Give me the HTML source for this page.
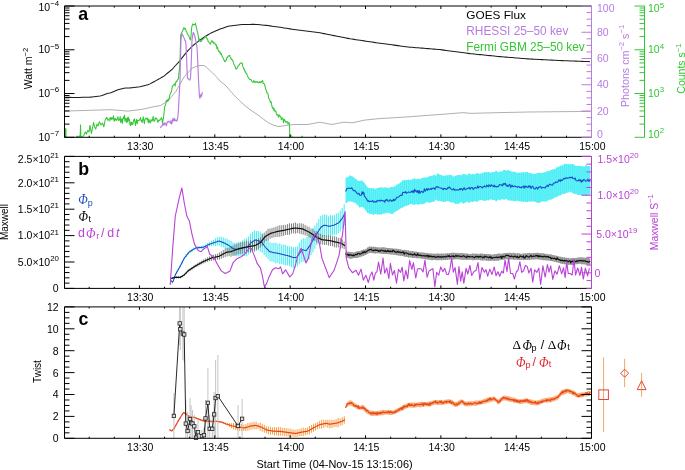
<!DOCTYPE html>
<html><head><meta charset="utf-8"><title>Flux and twist plot</title>
<style>html,body{margin:0;padding:0;background:#fff;}svg{display:block;font-family:"Liberation Sans", Arial, Helvetica, sans-serif;}</style>
</head><body>
<svg width="685" height="470" viewBox="0 0 685 470">
<rect width="685" height="470" fill="#fff"/>
<polyline points="64,111.1 66,111.04 68,110.98 70,110.92 72,110.86 74,110.8 76,110.74 78,110.68 80,110.62 82,110.56 84,110.5 86,110.44 88,110.38 90,110.32 92,110.26 94,110.2 96,110.14 98,110.08 100,110.02 102,109.96 104,109.91 106,109.85 108,109.79 110,109.73 112,109.78 114,109.95 116,110.11 118,110.28 120,110.44 122,110.61 124,110.77 126,110.94 128,111.1 130,110.85 132,110.6 134,110.36 136,110.11 138,109.86 140,109.61 142,109.33 144,108.88 146,108.43 148,107.97 150,107.52 152,107.07 154,106.62 156,106.22 158,105.96 160,105.7 162,104.52 164,103.34 166,102.12 168,100.9 170,98.5 172,96.1 174,93.7 176,91.3 178,87.72 180,84.15 182,80.58 184,77 186,74.8 188,72.6 190,70.4 192,68.2 194,67.34 196,66.49 198,65.63 200,65.5 202,65.5 204,65.5 206,66.72 208,68.59 210,70.46 212,72.4 214,74.4 216,76.43 218,78.74 220,81.05 222,82.68 224,84.19 226,85.87 228,88.19 230,90.52 232,92.84 234,95.1 236,97.1 238,99.1 240,101.1 242,103.04 244,104.71 246,106.39 248,108.06 250,109.67 252,111.01 254,112.35 256,113.69 258,115.08 260,116.59 262,118.1 264,119.57 266,121.01 268,122.46 270,123.52 272,124.54 274,125.42 276,125.91 278,126.4 280,126.41 282,126.08 284,125.75 286,125.43 288,125.18 290,124.98 292,124.77 294,124.57 296,124.5 298,124.5 300,124.5 302,124.5 304,124.5 306,124.5 308,124.48 310,124.09 312,123.71 314,123.32 316,122.93 318,122.55 320,122.24 322,122.63 324,123.01 326,123.4 328,123.78 330,124.17 332,124.44 334,124.06 336,123.67 338,123.28 340,122.9 342,122.51 344,122.23 346,122.36 348,122.49 350,122.63 352,122.76 354,122.48 356,122.03 358,121.57 360,121.12 362,120.67 364,120.21 366,119.95 368,119.75 370,119.55 372,119.34 374,119.14 376,118.94 378,118.74 380,118.56 382,118.44 384,118.32 386,118.2 388,118.08 390,117.96 392,117.84 394,117.72 396,117.6 398,117.48 400,117.36 402,117.23 404,117.11 406,116.99 408,116.87 410,116.74 412,116.57 414,116.41 416,116.25 418,116.09 420,115.93 422,115.77 424,115.61 426,115.47 428,115.33 430,115.19 432,115.05 434,114.92 436,114.78 438,114.64 440,114.5 442,114.34 444,114.18 446,114.02 448,113.86 450,113.7 452,113.54 454,113.38 456,113.22 458,113.06 460,112.9 462,112.74 464,112.63 466,112.89 468,113.16 470,113.39 472,113.34 474,113.29 476,113.23 478,113.18 480,113.13 482,113.07 484,113.02 486,112.97 488,112.91 490,112.86 492,112.8 494,112.75 496,112.7 498,112.64 500,112.59 502,112.55 504,112.51 506,112.47 508,112.43 510,112.39 512,112.35 514,112.31 516,112.27 518,112.23 520,112.19 522,112.15 524,112.11 526,112.07 528,112.03 530,111.99 532,111.97 534,111.95 536,111.93 538,111.91 540,111.89 542,111.87 544,111.85 546,111.83 548,111.81 550,111.79 552,111.77 554,111.75 556,111.73 558,111.71 560,111.69 562,111.67 564,111.65 566,111.64 568,111.62 570,111.6 572,111.58 574,111.56 576,111.54 578,111.52 580,111.5 582,111.48 584,111.47 586,111.45 588,111.43 590,111.41" fill="none" stroke="#b0b0b0" stroke-width="1.0" stroke-linejoin="round" />
<polyline points="64,97.3 66,97.33 68,97.36 70,97.39 72,97.42 74,97.45 76,97.48 78,97.47 80,97.41 82,97.35 84,97.29 86,97.24 88,97.18 90,97.12 92,96.92 94,96.67 96,96.42 98,96.17 100,95.91 102,95.41 104,94.71 106,94 108,93.34 110,92.91 112,92.28 114,91.44 116,90.6 118,89.77 120,89.27 122,88.77 124,88.27 126,88.04 128,87.95 130,87.87 132,87.74 134,87.48 136,87.22 138,86.96 140,86.7 142,86.23 144,85.76 146,85.29 148,84.82 150,83.89 152,82.81 154,81.72 156,80.64 158,79.53 160,78.4 162,77.27 164,76.12 166,74.44 168,72.77 170,71.1 172,69.48 174,67.26 176,65 178,62.87 180,60.53 182,57.94 184,55.35 186,52.85 188,50.67 190,48.48 192,46.32 194,44.73 196,43.13 198,41.54 200,40.1 202,38.7 204,37.29 206,36.02 208,34.81 210,33.6 212,32.57 214,31.7 216,30.83 218,29.97 220,29.1 222,28.4 224,27.7 226,27 228,26.3 230,26 232,25.75 234,25.51 236,25.27 238,25.03 240,24.79 242,24.59 244,24.55 246,24.5 248,24.46 250,24.41 252,24.37 254,24.32 256,24.41 258,24.6 260,24.8 262,24.99 264,25.19 266,25.38 268,25.58 270,25.86 272,26.15 274,26.43 276,26.72 278,27.01 280,27.3 282,27.59 284,27.91 286,28.23 288,28.54 290,28.86 292,29.17 294,29.49 296,29.77 298,30.02 300,30.28 302,30.53 304,30.79 306,31.04 308,31.3 310,31.55 312,31.81 314,32.06 316,32.32 318,32.57 320,32.84 322,33.24 324,33.63 326,34.03 328,34.42 330,34.82 332,35.22 334,35.61 336,36.01 338,36.4 340,36.8 342,37.2 344,37.59 346,37.99 348,38.38 350,38.76 352,39.06 354,39.36 356,39.67 358,39.97 360,40.27 362,40.57 364,40.87 366,41.18 368,41.48 370,41.78 372,42.08 374,42.38 376,42.69 378,42.99 380,43.28 382,43.54 384,43.8 386,44.06 388,44.33 390,44.59 392,44.85 394,45.11 396,45.37 398,45.63 400,45.9 402,46.16 404,46.42 406,46.68 408,46.94 410,47.16 412,47.33 414,47.49 416,47.65 418,47.81 420,47.98 422,48.14 424,48.3 426,48.46 428,48.63 430,48.79 432,48.95 434,49.11 436,49.28 438,49.44 440,49.6 442,49.87 444,50.14 446,50.41 448,50.67 450,50.94 452,51.21 454,51.48 456,51.75 458,52.02 460,52.28 462,52.55 464,52.82 466,53.09 468,53.36 470,53.62 472,53.82 474,54.02 476,54.22 478,54.43 480,54.63 482,54.83 484,55.03 486,55.23 488,55.43 490,55.63 492,55.83 494,56.04 496,56.24 498,56.44 500,56.63 502,56.79 504,56.95 506,57.12 508,57.28 510,57.44 512,57.6 514,57.76 516,57.92 518,58.08 520,58.24 522,58.4 524,58.57 526,58.73 528,58.89 530,59.03 532,59.13 534,59.23 536,59.33 538,59.43 540,59.53 542,59.63 544,59.73 546,59.84 548,59.94 550,60.04 552,60.14 554,60.24 556,60.34 558,60.44 560,60.53 562,60.61 564,60.68 566,60.76 568,60.83 570,60.91 572,60.98 574,61.06 576,61.13 578,61.21 580,61.28 582,61.36 584,61.44 586,61.51 588,61.59 590,61.66" fill="none" stroke="#1c1c1c" stroke-width="1.05" stroke-linejoin="round" />
<polyline points="109.7,121.51 110.25,117.54 110.8,118.61 111.35,119.45 111.9,117.3 112.45,118.93 113,119.05 113.55,115.84 114.1,121.23 114.65,120.56 115.2,118.31 115.75,119.17 116.3,120.46 116.85,119 117.4,119.04 117.95,116.74 118.5,120.55 119.05,119.74 119.6,120.02 120.15,116.6 120.7,122.64 121.25,119.79 121.8,118.76 122.35,123.36 122.9,119.41 123.45,116.74 124,118.73 124.55,115.15 125.1,121.54 125.65,119.03 126.2,118.69 126.75,122.41 127.3,117.51 127.85,121.94 128.4,117.28 128.95,120.22 129.5,119.46 130.05,124.8 130.6,125.66 131.15,121.95 131.7,124.45 132.25,122.78 132.8,124.48 133.35,121.76 133.9,119.47 134.45,118.81 135,122.48 135.55,125.54 136.1,121.3 136.65,119.31 137.2,123.65 137.75,120.5 138.3,120.27 138.85,120.6 139.4,119.9 139.95,119.6 140.5,117.49 141.05,121.21 141.6,120.11 142.15,122.59 142.7,119.66 143.25,116.77 143.8,120.24 144.35,123.69 144.9,119.77 145.45,118.76 146,118.13 146.55,118.35 147.1,119.72 147.65,117.99 148.2,123.03 148.75,119.59 149.3,120.28 149.85,122.75 150.4,122.82 150.95,119.5 151.5,120.48 152.05,121.19 152.6,119.37 153.15,116.31 153.7,120.87 154.25,121.27 154.8,120.31 155.35,117.72 155.9,119.07 156.45,118.28 157,118.8 157.55,121.79 158.1,122.2 158.65,120.53 159.2,120.26 159.75,120.47 160.3,119.12 160.85,118.97 161.4,117.79 161.95,118.93 162.5,123.29 163.05,120.1 163.6,116.77 164.15,111.78 164.7,106.52 165.25,105.52 165.8,103.89 166.35,100.41 166.9,101.52 167.45,99.73 168,100.99 168.55,98.99 169.1,99.32 169.65,95.49 170.2,94.01 170.75,92.83 171.3,91.76 171.85,89.43 172.4,85.8 172.95,85.78 173.5,85.26 174.05,84.44 174.6,83.85 175.15,85.88 175.7,82.74 176.25,81.22 176.8,81.64 177.35,80.31 177.9,79.27 178.45,78.87 179,72.92 179.55,68.56 180.1,58.3 180.65,35.22 181.2,33.53 181.75,32.64 182.3,31.34 182.85,30.67 183.4,28.58 183.95,27.67 184.5,29.1 185.05,28.42 185.6,28.91 186.15,31.47 186.7,31.63 187.25,33.71 187.8,34.3 188.35,35.19 188.9,36.33 189.45,37.94 190,39.21 190.55,39.92 191.1,34.79 191.65,27.73 192.2,25.71 192.75,23.89 193.3,24.5 193.85,24.74 194.4,24.64 194.95,24.7 195.5,23.3 196.05,26.27 196.6,28.43 197.15,30.98 197.7,32.35 198.25,36.22 198.8,40.17 199.35,38.78 199.9,40.68 200.45,41.65 201,40.74 201.55,41.21 202.1,39.64 202.65,39.4 203.2,38.98 203.75,38.83 204.3,37.54 204.85,37.52 205.4,36.36 205.95,37.1 206.5,38.04 207.05,38.86 207.6,38.84 208.15,41.54 208.7,41.72 209.25,42.76 209.8,43.14 210.35,44.21 210.9,42.93 211.45,40.94 212,40.67 212.55,42.01 213.1,41.77 213.65,43.19 214.2,43.03 214.75,42.75 215.3,44.92 215.85,44.63 216.4,44.81 216.95,48.75 217.5,47.1 218.05,50.01 218.6,51.35 219.15,51.66 219.7,51.18 220.25,53.9 220.8,53.04 221.35,53.97 221.9,55.52 222.45,57.19 223,57.71 223.55,59.46 224.1,59.97 224.65,61.54 225.2,61.73 225.75,60.77 226.3,59.87 226.85,57.71 227.4,57.51 227.95,56.33 228.5,55.87 229.05,55.87 229.6,55.26 230.15,56.79 230.7,57.48 231.25,59.55 231.8,59.16 232.35,60.16 232.9,60.87 233.45,62.89 234,64.63 234.55,64.91 235.1,66.68 235.65,68.49 236.2,69.18 236.75,68.22 237.3,68.14 237.85,66.41 238.4,65.5 238.95,64.99 239.5,64.69 240.05,63.36 240.6,62.95 241.15,63.23 241.7,62.96 242.25,63.15 242.8,66.79 243.35,67.32 243.9,69.24 244.45,69.18 245,72 245.55,71.79 246.1,73.22 246.65,73.42 247.2,75.38 247.75,76.44 248.3,77.47 248.85,78.44 249.4,78.71 249.95,79.89 250.5,79.41 251.05,79.58 251.6,80.8 252.15,81.79 252.7,82.33 253.25,82.09 253.8,80.35 254.35,81.91 254.9,82.73 255.45,81.81 256,81.47 256.55,82.11 257.1,81.6 257.65,82.45 258.2,81.99 258.75,82.98 259.3,82.35 259.85,81.49 260.4,82.42 260.95,82.66 261.5,81.6 262.05,81.7 262.6,80.39 263.15,83.42 263.7,83.62 264.25,83.79 264.8,85.28 265.35,87.61 265.9,89.82 266.45,90.82 267,93.06 267.55,92.96 268.1,94.33 268.65,98.15 269.2,99.03 269.75,99.76 270.3,102.52 270.85,101.37 271.4,103.27 271.95,106.17 272.5,108.21 273.05,107.29 273.6,110.21 274.15,108.79 274.7,110.9 275.25,111.43 275.8,110.96 276.35,113.83 276.9,115.13 277.45,114.49 278,115.12 278.55,117.28 279.1,114.93 279.65,115.2 280.2,116.65 280.75,116.42 281.3,119.59 281.85,118.82 282.4,117.9 282.95,118.55 283.5,122.74 284.05,119.3 284.6,119.64 285.15,121.35 285.7,122.24 286.25,122.31 286.8,121.6 287.35,121.69 287.9,123.99 288.45,123.64 289,122.27 289.55,125.75 289.8,137.5" fill="none" stroke="#34c634" stroke-width="1.05" stroke-linejoin="round" />
<polyline points="64.9,137.5 64.9,128.6 65.7,129.4 65.7,137.5" fill="none" stroke="#34c634" stroke-width="1.6" stroke-linejoin="round" />
<polyline points="76,137.5 77,136 78,137 79.5,136 80.2,136.5 80.5,124.9 80.9,136.5 82.5,137 84,135 85.5,131.9 86.5,134 87.7,130.4 89,132 90,125.3 91.4,133.4 92.5,128 93.6,122.4 94.6,127 95.8,129 97,124 98,126 99.4,121.7 101,125 102.4,123 103.8,126.8 105.2,120 106.7,117.3 108,120.5 109.7,118.3" fill="none" stroke="#34c634" stroke-width="1.05" stroke-linejoin="round" />
<polyline points="290.5,137 291.5,135.5 292.5,137" fill="none" stroke="#34c634" stroke-width="0.8" stroke-linejoin="round" />
<polyline points="301,137 302,135.8 303,137" fill="none" stroke="#34c634" stroke-width="0.8" stroke-linejoin="round" />
<polyline points="160.5,128.15 161,126.57 161.5,126.09 162,126.17 162.5,124.69 163,123.5 163.5,125.08 164,123.02 164.5,124.9 165,122.76 165.5,124.12 166,123.95 166.5,125.89 167,122.38 167.5,121.62 168,122.09 168.5,121.19 169,121.4 169.5,122.14 170,122.35 170.5,123.2 171,120.44 171.5,124.03 172,123.18 172.5,120.65 173,118.28 173.5,120.71 174,120.88 174.5,118.27 175,120.88 175.5,120.58 176,119.94 176.5,121.02 177,120.97 177.5,118.86 178,115.39 178.5,108.98 179,98.64 179.5,89.87 180,81.21 180.5,56.44 181,39.11 181.5,36.16 182,33.8 182.5,34.72 183,35.61 183.5,36.62 184,37.89 184.5,39.02 185,40.57 185.5,40.59 186,45.44 186.5,55.17 187,68.69 187.5,77.88 188,78.72 188.5,78.97 189,79.53 189.5,80.04 190,79.93 190.5,77.04 191,69.24 191.5,55.06 192,39.72 192.5,36.09 193,33.37 193.5,32.26 194,34.29 194.5,34.92 195,36.97 195.5,39.27 196,41.59 196.5,44.05 197,47.32 197.5,55.71 198,67.67 198.5,80.06 199,88.73 199.5,96.97 200,98.32 200.5,95.37 201,94.39 201.5,96.4 202,93.59 202.5,92.1" fill="none" stroke="#b67ce2" stroke-width="1.15" stroke-linejoin="round" />
<line x1="64.5" y1="6" x2="591.5" y2="6" stroke="#000" stroke-width="1" />
<line x1="64.5" y1="137.3" x2="591.5" y2="137.3" stroke="#000" stroke-width="1" />
<line x1="64.5" y1="6" x2="64.5" y2="137.3" stroke="#000" stroke-width="1" />
<line x1="591.5" y1="6" x2="591.5" y2="137.3" stroke="#b67ce2" stroke-width="1" />
<line x1="89.2" y1="137.3" x2="89.2" y2="135.7" stroke="#000" stroke-width="1" />
<line x1="89.2" y1="6" x2="89.2" y2="7.6" stroke="#000" stroke-width="1" />
<line x1="114.32" y1="137.3" x2="114.32" y2="135.7" stroke="#000" stroke-width="1" />
<line x1="114.32" y1="6" x2="114.32" y2="7.6" stroke="#000" stroke-width="1" />
<line x1="139.44" y1="137.3" x2="139.44" y2="134.3" stroke="#000" stroke-width="1" />
<line x1="139.44" y1="6" x2="139.44" y2="9" stroke="#000" stroke-width="1" />
<text x="140.24" y="150.1" font-size="10.5" fill="#000" text-anchor="middle" >13:30</text>
<line x1="164.56" y1="137.3" x2="164.56" y2="135.7" stroke="#000" stroke-width="1" />
<line x1="164.56" y1="6" x2="164.56" y2="7.6" stroke="#000" stroke-width="1" />
<line x1="189.68" y1="137.3" x2="189.68" y2="135.7" stroke="#000" stroke-width="1" />
<line x1="189.68" y1="6" x2="189.68" y2="7.6" stroke="#000" stroke-width="1" />
<line x1="214.8" y1="137.3" x2="214.8" y2="134.3" stroke="#000" stroke-width="1" />
<line x1="214.8" y1="6" x2="214.8" y2="9" stroke="#000" stroke-width="1" />
<text x="215.6" y="150.1" font-size="10.5" fill="#000" text-anchor="middle" >13:45</text>
<line x1="239.92" y1="137.3" x2="239.92" y2="135.7" stroke="#000" stroke-width="1" />
<line x1="239.92" y1="6" x2="239.92" y2="7.6" stroke="#000" stroke-width="1" />
<line x1="265.04" y1="137.3" x2="265.04" y2="135.7" stroke="#000" stroke-width="1" />
<line x1="265.04" y1="6" x2="265.04" y2="7.6" stroke="#000" stroke-width="1" />
<line x1="290.16" y1="137.3" x2="290.16" y2="134.3" stroke="#000" stroke-width="1" />
<line x1="290.16" y1="6" x2="290.16" y2="9" stroke="#000" stroke-width="1" />
<text x="290.96" y="150.1" font-size="10.5" fill="#000" text-anchor="middle" >14:00</text>
<line x1="315.28" y1="137.3" x2="315.28" y2="135.7" stroke="#000" stroke-width="1" />
<line x1="315.28" y1="6" x2="315.28" y2="7.6" stroke="#000" stroke-width="1" />
<line x1="340.4" y1="137.3" x2="340.4" y2="135.7" stroke="#000" stroke-width="1" />
<line x1="340.4" y1="6" x2="340.4" y2="7.6" stroke="#000" stroke-width="1" />
<line x1="365.52" y1="137.3" x2="365.52" y2="134.3" stroke="#000" stroke-width="1" />
<line x1="365.52" y1="6" x2="365.52" y2="9" stroke="#000" stroke-width="1" />
<text x="366.32" y="150.1" font-size="10.5" fill="#000" text-anchor="middle" >14:15</text>
<line x1="390.64" y1="137.3" x2="390.64" y2="135.7" stroke="#000" stroke-width="1" />
<line x1="390.64" y1="6" x2="390.64" y2="7.6" stroke="#000" stroke-width="1" />
<line x1="415.76" y1="137.3" x2="415.76" y2="135.7" stroke="#000" stroke-width="1" />
<line x1="415.76" y1="6" x2="415.76" y2="7.6" stroke="#000" stroke-width="1" />
<line x1="440.88" y1="137.3" x2="440.88" y2="134.3" stroke="#000" stroke-width="1" />
<line x1="440.88" y1="6" x2="440.88" y2="9" stroke="#000" stroke-width="1" />
<text x="441.68" y="150.1" font-size="10.5" fill="#000" text-anchor="middle" >14:30</text>
<line x1="466" y1="137.3" x2="466" y2="135.7" stroke="#000" stroke-width="1" />
<line x1="466" y1="6" x2="466" y2="7.6" stroke="#000" stroke-width="1" />
<line x1="491.12" y1="137.3" x2="491.12" y2="135.7" stroke="#000" stroke-width="1" />
<line x1="491.12" y1="6" x2="491.12" y2="7.6" stroke="#000" stroke-width="1" />
<line x1="516.24" y1="137.3" x2="516.24" y2="134.3" stroke="#000" stroke-width="1" />
<line x1="516.24" y1="6" x2="516.24" y2="9" stroke="#000" stroke-width="1" />
<text x="517.04" y="150.1" font-size="10.5" fill="#000" text-anchor="middle" >14:45</text>
<line x1="541.36" y1="137.3" x2="541.36" y2="135.7" stroke="#000" stroke-width="1" />
<line x1="541.36" y1="6" x2="541.36" y2="7.6" stroke="#000" stroke-width="1" />
<line x1="566.48" y1="137.3" x2="566.48" y2="135.7" stroke="#000" stroke-width="1" />
<line x1="566.48" y1="6" x2="566.48" y2="7.6" stroke="#000" stroke-width="1" />
<text x="592.4" y="150.1" font-size="10.5" fill="#000" text-anchor="middle" >15:00</text>
<line x1="64.5" y1="137.3" x2="74.5" y2="137.3" stroke="#000" stroke-width="1" />
<line x1="64.5" y1="124.12" x2="69.5" y2="124.12" stroke="#000" stroke-width="1" />
<line x1="64.5" y1="116.42" x2="69.5" y2="116.42" stroke="#000" stroke-width="1" />
<line x1="64.5" y1="110.95" x2="69.5" y2="110.95" stroke="#000" stroke-width="1" />
<line x1="64.5" y1="106.71" x2="69.5" y2="106.71" stroke="#000" stroke-width="1" />
<line x1="64.5" y1="103.24" x2="69.5" y2="103.24" stroke="#000" stroke-width="1" />
<line x1="64.5" y1="100.31" x2="69.5" y2="100.31" stroke="#000" stroke-width="1" />
<line x1="64.5" y1="97.77" x2="69.5" y2="97.77" stroke="#000" stroke-width="1" />
<line x1="64.5" y1="95.54" x2="69.5" y2="95.54" stroke="#000" stroke-width="1" />
<line x1="64.5" y1="93.53" x2="74.5" y2="93.53" stroke="#000" stroke-width="1" />
<line x1="64.5" y1="80.36" x2="69.5" y2="80.36" stroke="#000" stroke-width="1" />
<line x1="64.5" y1="72.65" x2="69.5" y2="72.65" stroke="#000" stroke-width="1" />
<line x1="64.5" y1="67.18" x2="69.5" y2="67.18" stroke="#000" stroke-width="1" />
<line x1="64.5" y1="62.94" x2="69.5" y2="62.94" stroke="#000" stroke-width="1" />
<line x1="64.5" y1="59.48" x2="69.5" y2="59.48" stroke="#000" stroke-width="1" />
<line x1="64.5" y1="56.55" x2="69.5" y2="56.55" stroke="#000" stroke-width="1" />
<line x1="64.5" y1="54.01" x2="69.5" y2="54.01" stroke="#000" stroke-width="1" />
<line x1="64.5" y1="51.77" x2="69.5" y2="51.77" stroke="#000" stroke-width="1" />
<line x1="64.5" y1="49.77" x2="74.5" y2="49.77" stroke="#000" stroke-width="1" />
<line x1="64.5" y1="36.59" x2="69.5" y2="36.59" stroke="#000" stroke-width="1" />
<line x1="64.5" y1="28.88" x2="69.5" y2="28.88" stroke="#000" stroke-width="1" />
<line x1="64.5" y1="23.42" x2="69.5" y2="23.42" stroke="#000" stroke-width="1" />
<line x1="64.5" y1="19.18" x2="69.5" y2="19.18" stroke="#000" stroke-width="1" />
<line x1="64.5" y1="15.71" x2="69.5" y2="15.71" stroke="#000" stroke-width="1" />
<line x1="64.5" y1="12.78" x2="69.5" y2="12.78" stroke="#000" stroke-width="1" />
<line x1="64.5" y1="10.24" x2="69.5" y2="10.24" stroke="#000" stroke-width="1" />
<line x1="64.5" y1="8" x2="69.5" y2="8" stroke="#000" stroke-width="1" />
<line x1="64.5" y1="6" x2="74.5" y2="6" stroke="#000" stroke-width="1" />
<text y="140.9" font-size="10.5" fill="#000" x="59.2" text-anchor="end">10<tspan font-size="7.9" dy="-4.7">&#8722;7</tspan></text>
<text y="97.13" font-size="10.5" fill="#000" x="59.2" text-anchor="end">10<tspan font-size="7.9" dy="-4.7">&#8722;6</tspan></text>
<text y="53.37" font-size="10.5" fill="#000" x="59.2" text-anchor="end">10<tspan font-size="7.9" dy="-4.7">&#8722;5</tspan></text>
<text y="11" font-size="10.5" fill="#000" x="59.2" text-anchor="end">10<tspan font-size="7.9" dy="-4.7">&#8722;4</tspan></text>
<line x1="591.5" y1="137.3" x2="581.5" y2="137.3" stroke="#b67ce2" stroke-width="1" />
<line x1="591.5" y1="130.74" x2="586.5" y2="130.74" stroke="#b67ce2" stroke-width="1" />
<line x1="591.5" y1="124.17" x2="586.5" y2="124.17" stroke="#b67ce2" stroke-width="1" />
<line x1="591.5" y1="117.61" x2="586.5" y2="117.61" stroke="#b67ce2" stroke-width="1" />
<line x1="591.5" y1="111.04" x2="581.5" y2="111.04" stroke="#b67ce2" stroke-width="1" />
<line x1="591.5" y1="104.48" x2="586.5" y2="104.48" stroke="#b67ce2" stroke-width="1" />
<line x1="591.5" y1="97.91" x2="586.5" y2="97.91" stroke="#b67ce2" stroke-width="1" />
<line x1="591.5" y1="91.35" x2="586.5" y2="91.35" stroke="#b67ce2" stroke-width="1" />
<line x1="591.5" y1="84.78" x2="581.5" y2="84.78" stroke="#b67ce2" stroke-width="1" />
<line x1="591.5" y1="78.22" x2="586.5" y2="78.22" stroke="#b67ce2" stroke-width="1" />
<line x1="591.5" y1="71.65" x2="586.5" y2="71.65" stroke="#b67ce2" stroke-width="1" />
<line x1="591.5" y1="65.08" x2="586.5" y2="65.08" stroke="#b67ce2" stroke-width="1" />
<line x1="591.5" y1="58.52" x2="581.5" y2="58.52" stroke="#b67ce2" stroke-width="1" />
<line x1="591.5" y1="51.95" x2="586.5" y2="51.95" stroke="#b67ce2" stroke-width="1" />
<line x1="591.5" y1="45.39" x2="586.5" y2="45.39" stroke="#b67ce2" stroke-width="1" />
<line x1="591.5" y1="38.83" x2="586.5" y2="38.83" stroke="#b67ce2" stroke-width="1" />
<line x1="591.5" y1="32.26" x2="581.5" y2="32.26" stroke="#b67ce2" stroke-width="1" />
<line x1="591.5" y1="25.7" x2="586.5" y2="25.7" stroke="#b67ce2" stroke-width="1" />
<line x1="591.5" y1="19.13" x2="586.5" y2="19.13" stroke="#b67ce2" stroke-width="1" />
<line x1="591.5" y1="12.57" x2="586.5" y2="12.57" stroke="#b67ce2" stroke-width="1" />
<line x1="591.5" y1="6" x2="581.5" y2="6" stroke="#b67ce2" stroke-width="1" />
<text x="597" y="138" font-size="10.5" fill="#b67ce2" text-anchor="start" >0</text>
<text x="597" y="114.74" font-size="10.5" fill="#b67ce2" text-anchor="start" >20</text>
<text x="597" y="88.48" font-size="10.5" fill="#b67ce2" text-anchor="start" >40</text>
<text x="597" y="62.22" font-size="10.5" fill="#b67ce2" text-anchor="start" >60</text>
<text x="597" y="35.96" font-size="10.5" fill="#b67ce2" text-anchor="start" >80</text>
<text x="597" y="11.8" font-size="10.5" fill="#b67ce2" text-anchor="start" >100</text>
<line x1="644.5" y1="6" x2="644.5" y2="137.3" stroke="#34c634" stroke-width="1" />
<line x1="644.5" y1="137.3" x2="634.5" y2="137.3" stroke="#34c634" stroke-width="1" />
<line x1="644.5" y1="124.12" x2="639.5" y2="124.12" stroke="#34c634" stroke-width="1" />
<line x1="644.5" y1="116.42" x2="639.5" y2="116.42" stroke="#34c634" stroke-width="1" />
<line x1="644.5" y1="110.95" x2="639.5" y2="110.95" stroke="#34c634" stroke-width="1" />
<line x1="644.5" y1="106.71" x2="639.5" y2="106.71" stroke="#34c634" stroke-width="1" />
<line x1="644.5" y1="103.24" x2="639.5" y2="103.24" stroke="#34c634" stroke-width="1" />
<line x1="644.5" y1="100.31" x2="639.5" y2="100.31" stroke="#34c634" stroke-width="1" />
<line x1="644.5" y1="97.77" x2="639.5" y2="97.77" stroke="#34c634" stroke-width="1" />
<line x1="644.5" y1="95.54" x2="639.5" y2="95.54" stroke="#34c634" stroke-width="1" />
<line x1="644.5" y1="93.53" x2="634.5" y2="93.53" stroke="#34c634" stroke-width="1" />
<line x1="644.5" y1="80.36" x2="639.5" y2="80.36" stroke="#34c634" stroke-width="1" />
<line x1="644.5" y1="72.65" x2="639.5" y2="72.65" stroke="#34c634" stroke-width="1" />
<line x1="644.5" y1="67.18" x2="639.5" y2="67.18" stroke="#34c634" stroke-width="1" />
<line x1="644.5" y1="62.94" x2="639.5" y2="62.94" stroke="#34c634" stroke-width="1" />
<line x1="644.5" y1="59.48" x2="639.5" y2="59.48" stroke="#34c634" stroke-width="1" />
<line x1="644.5" y1="56.55" x2="639.5" y2="56.55" stroke="#34c634" stroke-width="1" />
<line x1="644.5" y1="54.01" x2="639.5" y2="54.01" stroke="#34c634" stroke-width="1" />
<line x1="644.5" y1="51.77" x2="639.5" y2="51.77" stroke="#34c634" stroke-width="1" />
<line x1="644.5" y1="49.77" x2="634.5" y2="49.77" stroke="#34c634" stroke-width="1" />
<line x1="644.5" y1="36.59" x2="639.5" y2="36.59" stroke="#34c634" stroke-width="1" />
<line x1="644.5" y1="28.88" x2="639.5" y2="28.88" stroke="#34c634" stroke-width="1" />
<line x1="644.5" y1="23.42" x2="639.5" y2="23.42" stroke="#34c634" stroke-width="1" />
<line x1="644.5" y1="19.18" x2="639.5" y2="19.18" stroke="#34c634" stroke-width="1" />
<line x1="644.5" y1="15.71" x2="639.5" y2="15.71" stroke="#34c634" stroke-width="1" />
<line x1="644.5" y1="12.78" x2="639.5" y2="12.78" stroke="#34c634" stroke-width="1" />
<line x1="644.5" y1="10.24" x2="639.5" y2="10.24" stroke="#34c634" stroke-width="1" />
<line x1="644.5" y1="8" x2="639.5" y2="8" stroke="#34c634" stroke-width="1" />
<line x1="644.5" y1="6" x2="634.5" y2="6" stroke="#34c634" stroke-width="1" />
<text y="137.9" font-size="10.5" fill="#34c634" x="648" text-anchor="start">10<tspan font-size="7.9" dy="-4.7">2</tspan></text>
<text y="97.13" font-size="10.5" fill="#34c634" x="648" text-anchor="start">10<tspan font-size="7.9" dy="-4.7">3</tspan></text>
<text y="53.37" font-size="10.5" fill="#34c634" x="648" text-anchor="start">10<tspan font-size="7.9" dy="-4.7">4</tspan></text>
<text y="12.3" font-size="10.5" fill="#34c634" x="648" text-anchor="start">10<tspan font-size="7.9" dy="-4.7">5</tspan></text>
<text transform="translate(32.3,68.5) rotate(-90)" font-size="10.5" fill="#000" text-anchor="middle">Watt m<tspan font-size="7.7" dy="-4.6">&#8722;2</tspan></text>
<text transform="translate(628.6,65.9) rotate(-90)" font-size="10.7" fill="#b67ce2" text-anchor="middle">Photons cm<tspan font-size="7.7" dy="-4.6">&#8722;2</tspan><tspan dy="4.6"> s</tspan><tspan font-size="7.7" dy="-4.6">&#8722;1</tspan></text>
<text transform="translate(685.1,68.6) rotate(-90)" font-size="10.5" fill="#34c634" text-anchor="middle">Counts s<tspan font-size="7.7" dy="-4.6">&#8722;1</tspan></text>
<text x="78.3" y="19.9" font-size="17.8" fill="#000" text-anchor="start" font-weight="bold">a</text>
<text x="466.3" y="18.7" font-size="11.8" fill="#000" text-anchor="start" >GOES Flux</text>
<text x="466.3" y="34.8" font-size="11.85" fill="#b67ce2" text-anchor="start" >RHESSI 25&#8211;50 kev</text>
<text x="466.3" y="51" font-size="11.85" fill="#34c634" text-anchor="start" >Fermi GBM 25&#8211;50 kev</text>
<polygon points="346.1,177.63 348.05,177.23 350,175.57 351.95,176.29 353.9,177.49 355.85,178.95 357.8,180.72 359.75,180.96 361.7,180.41 363.65,181.99 365.6,184.75 367.55,187.49 369.5,188.32 371.45,188.34 373.4,188.19 375.35,189.11 377.3,187.93 379.25,187.84 381.2,187.16 383.15,187.65 385.1,187.48 387.05,187.81 389,187.97 390.95,186.88 392.9,186.95 394.85,186.62 396.8,184.69 398.75,183.67 400.7,182.44 402.65,180.49 404.6,180.35 406.55,179.94 408.5,179.81 410.45,180.11 412.4,179.25 414.35,178.59 416.3,179.3 418.25,178.63 420.2,179.33 422.15,177.98 424.1,177.44 426.05,177.69 428,176.94 429.95,175.84 431.9,176.11 433.85,174.84 435.8,175.76 437.75,173.53 439.7,174.72 441.65,175.2 443.6,175.99 445.55,175.53 447.5,175.49 449.45,174.88 451.4,175.04 453.35,176.73 455.3,176.03 457.25,175.22 459.2,174.87 461.15,175.56 463.1,173.89 465.05,174.28 467,175.14 468.95,173.56 470.9,174.39 472.85,174.07 474.8,174.5 476.75,172.9 478.7,173.81 480.65,173.84 482.6,172.91 484.55,171.95 486.5,172.47 488.45,171.97 490.4,172.69 492.35,172.25 494.3,172.1 496.25,170.71 498.2,172.39 500.15,171.43 502.1,171.53 504.05,169.74 506,170.65 507.95,170.1 509.9,171.07 511.85,171.63 513.8,171.64 515.75,172.21 517.7,173.05 519.65,172.74 521.6,172.59 523.55,172.19 525.5,172.61 527.45,172.09 529.4,173.13 531.35,173.14 533.3,173.93 535.25,173.89 537.2,173.22 539.15,172.65 541.1,173.09 543.05,172.86 545,172.31 546.95,171.25 548.9,171.21 550.85,170.05 552.8,169.54 554.75,169.17 556.7,167.62 558.65,166.81 560.6,165.66 562.55,165.43 564.5,163.86 566.45,163.88 568.4,164.23 570.35,164.56 572.3,164.02 574.25,164.63 576.2,166.15 578.15,165.76 580.1,166.08 582.05,166.26 584,166.67 585.95,165.16 587.9,166.1 589.85,166.13 589.85,194.56 587.9,194.83 585.95,196.02 584,194.75 582.05,195.24 580.1,195.08 578.15,195.06 576.2,193.89 574.25,193.83 572.3,192.87 570.35,191.58 568.4,192.25 566.45,192.94 564.5,193.87 562.55,193.87 560.6,195.21 558.65,195.85 556.7,197.03 554.75,197.47 552.8,198.72 550.85,199.6 548.9,199.82 546.95,201.18 545,201.38 543.05,201.37 541.1,201.69 539.15,202.67 537.2,202.64 535.25,201.78 533.3,201.28 531.35,201.62 529.4,201.17 527.45,201.91 525.5,201.39 523.55,201.81 521.6,201.41 519.65,201.26 517.7,200.53 515.75,200.92 513.8,201.04 511.85,200.59 509.9,200.4 507.95,200.35 506,198.77 504.05,199.86 502.1,199.07 500.15,200.19 498.2,199.61 496.25,201.29 494.3,199.9 492.35,199.75 490.4,199.36 488.45,200.36 486.5,200.13 484.55,200.92 482.6,200.24 480.65,199.86 478.7,200.53 476.75,202.07 474.8,201.11 472.85,201.93 470.9,201.61 468.95,202.64 467,201.43 465.05,202.65 463.1,203.42 461.15,202.12 459.2,203.43 457.25,203.83 455.3,203.77 453.35,202.27 451.4,202.62 449.45,201.43 447.5,200.98 445.55,201.56 443.6,201.72 441.65,201.56 439.7,200.8 437.75,200.77 435.8,199.56 433.85,201.69 431.9,201.63 429.95,202.67 428,202.33 426.05,202.34 424.1,203.73 422.15,204.33 420.2,204.07 418.25,204.77 416.3,204.1 414.35,204.81 412.4,204.15 410.45,203.88 408.5,205.08 406.55,205.86 404.6,206.35 402.65,207.51 400.7,208.16 398.75,209.53 396.8,211.09 394.85,211.7 392.9,213.65 390.95,213.72 389,212.63 387.05,212.79 385.1,213.29 383.15,213.53 381.2,214.43 379.25,214.16 377.3,214.52 375.35,213.84 373.4,214.75 371.45,214.09 369.5,213.49 367.55,213.01 365.6,210.24 363.65,207.42 361.7,206.71 359.75,207.47 357.8,205.31 355.85,203.31 353.9,202.26 351.95,201.65 350,201.29 348.05,201.61 346.1,203.35" fill="#64f4fa" stroke="none"/>
<path d="M170.6 279.14V281.43M172.55 280.89V283.43M174.5 276V278.46M176.45 271.61V273.93M178.4 268.08V270.58M180.35 264.58V267.19M182.3 260.7V263.4M184.25 256.83V259.61M186.2 254.36V257.15M188.15 251.86V254.83M190.1 249.88V252.87M192.05 248.73V251.64M194 247.46V250.54M195.95 246.36V249.41M197.9 246.09V249.32M199.85 245.98V249.08M201.8 245.66V249.03M203.75 245.17V248.87M205.7 244.28V247.78M207.65 243.05V247.02M209.6 242.1V246.34M211.55 240.82V246.27M213.5 239.94V245.8M215.45 238.31V246.06M217.4 237.31V245.68M219.35 236.79V245.6M221.3 236.82V246.95M223.25 237.57V247.57M225.2 238.14V248.83M227.15 238.87V250.17M229.1 239.67V251.49M231.05 240.77V253.33M233 242.43V254.6M234.95 242.71V255.42M236.9 242.51V256.59M238.85 241.84V256.45M240.8 241.41V255.85M242.75 240.32V255.91M244.7 239.37V256.03M246.65 238.35V256.27M248.6 236.58V254.61M250.55 233.58V253.14M252.5 232.1V251.34M254.45 230.54V250.36M256.4 230.92V249.53M258.35 231V250.59M260.3 231.77V251.63M262.25 233.28V252.73M264.2 236V255.12M266.15 239.04V256.97M268.1 241.1V259.1M270.05 242.14V261.33M272 242.93V261.52M273.95 242.99V262.34M275.9 242.52V263.38M277.85 243.63V262.9M279.8 243.28V264.22M281.75 244.39V264.09M283.7 244.59V264.86M285.65 244.98V265.44M287.6 245.94V265.43M289.55 246.34V265.99M291.5 246.55V267.2M293.45 247.36V267.86M295.4 247.05V267.8M297.35 246.44V266.34M299.3 242.66V264.51M301.25 239.62V262.24M303.2 238.17V261.41M305.15 238.66V262.19M307.1 237.05V261.5M309.05 233.81V259.68M311 232.09V255.23M312.95 228.02V252.58M314.9 225.44V248.69M316.85 222.77V244.92M318.8 219.05V242.22M320.75 216.07V238.87M322.7 215.05V237.29M324.65 214.27V236.1M326.6 214.81V236.52M328.55 216.13V236.15M330.5 215.32V236.64M332.45 215.56V235.45M334.4 214.92V234.97M336.35 213.43V234.47M338.3 212.65V233.26M340.25 210.31V231.55M342.2 207.93V228.74M344.15 204.18V225.35M346.1 177.63V203.35M348.05 177.23V201.61M350 175.57V201.29M351.95 176.29V201.65M353.9 177.49V202.26M355.85 178.95V203.31M357.8 180.72V205.31M359.75 180.96V207.47M361.7 180.41V206.71M363.65 181.99V207.42M365.6 184.75V210.24M367.55 187.49V213.01M369.5 188.32V213.49M371.45 188.34V214.09M373.4 188.19V214.75M375.35 189.11V213.84M377.3 187.93V214.52M379.25 187.84V214.16M381.2 187.16V214.43M383.15 187.65V213.53M385.1 187.48V213.29M387.05 187.81V212.79M389 187.97V212.63M390.95 186.88V213.72M392.9 186.95V213.65M394.85 186.62V211.7M396.8 184.69V211.09M398.75 183.67V209.53M400.7 182.44V208.16M402.65 180.49V207.51M404.6 180.35V206.35M406.55 179.94V205.86M408.5 179.81V205.08M410.45 180.11V203.88M412.4 179.25V204.15M414.35 178.59V204.81M416.3 179.3V204.1M418.25 178.63V204.77M420.2 179.33V204.07M422.15 177.98V204.33M424.1 177.44V203.73M426.05 177.69V202.34M428 176.94V202.33M429.95 175.84V202.67M431.9 176.11V201.63M433.85 174.84V201.69M435.8 175.76V199.56M437.75 173.53V200.77M439.7 174.72V200.8M441.65 175.2V201.56M443.6 175.99V201.72M445.55 175.53V201.56M447.5 175.49V200.98M449.45 174.88V201.43M451.4 175.04V202.62M453.35 176.73V202.27M455.3 176.03V203.77M457.25 175.22V203.83M459.2 174.87V203.43M461.15 175.56V202.12M463.1 173.89V203.42M465.05 174.28V202.65M467 175.14V201.43M468.95 173.56V202.64M470.9 174.39V201.61M472.85 174.07V201.93M474.8 174.5V201.11M476.75 172.9V202.07M478.7 173.81V200.53M480.65 173.84V199.86M482.6 172.91V200.24M484.55 171.95V200.92M486.5 172.47V200.13M488.45 171.97V200.36M490.4 172.69V199.36M492.35 172.25V199.75M494.3 172.1V199.9M496.25 170.71V201.29M498.2 172.39V199.61M500.15 171.43V200.19M502.1 171.53V199.07M504.05 169.74V199.86M506 170.65V198.77M507.95 170.1V200.35M509.9 171.07V200.4M511.85 171.63V200.59M513.8 171.64V201.04M515.75 172.21V200.92M517.7 173.05V200.53M519.65 172.74V201.26M521.6 172.59V201.41M523.55 172.19V201.81M525.5 172.61V201.39M527.45 172.09V201.91M529.4 173.13V201.17M531.35 173.14V201.62M533.3 173.93V201.28M535.25 173.89V201.78M537.2 173.22V202.64M539.15 172.65V202.67M541.1 173.09V201.69M543.05 172.86V201.37M545 172.31V201.38M546.95 171.25V201.18M548.9 171.21V199.82M550.85 170.05V199.6M552.8 169.54V198.72M554.75 169.17V197.47M556.7 167.62V197.03M558.65 166.81V195.85M560.6 165.66V195.21M562.55 165.43V193.87M564.5 163.86V193.87M566.45 163.88V192.94M568.4 164.23V192.25M570.35 164.56V191.58M572.3 164.02V192.87M574.25 164.63V193.83M576.2 166.15V193.89M578.15 165.76V195.06M580.1 166.08V195.08M582.05 166.26V195.24M584 166.67V194.75M585.95 165.16V196.02M587.9 166.1V194.83M589.85 166.13V194.56" stroke="#50ecf4" stroke-width="1.1" fill="none"/>
<path d="M170.6 277.49V279.5M172.55 276.97V279.03M174.5 276.38V278.63M176.45 276.22V278.38M178.4 276.11V278.49M180.35 276.15V278.41M182.3 274.95V277.22M184.25 273.59V276.05M186.2 271.58V274.12M188.15 269.52V272.23M190.1 268.13V271.02M192.05 266.79V269.77M194 265.48V268.5M195.95 264.24V267.2M197.9 262.85V266.37M199.85 261.86V265.16M201.8 260.55V264.26M203.75 259.27V263.42M205.7 258.43V262.54M207.65 257.32V261.92M209.6 256.36V261.16M211.55 255.02V260.98M213.5 254.76V260.38M215.45 254.09V260.19M217.4 253.7V259.72M219.35 252.45V259.76M221.3 251.3V258.8M223.25 250.02V257.97M225.2 248.63V257.26M227.15 247.95V256.43M229.1 247.6V256.2M231.05 246.4V256.79M233 245.63V256.05M234.95 244.42V255.7M236.9 243.83V254.73M238.85 243.14V254.34M240.8 242.46V254M242.75 241.89V253.55M244.7 241.66V253M246.65 240.8V253.16M248.6 241.36V251.9M250.55 240.2V252.38M252.5 240.76V251.17M254.45 239.55V251.73M256.4 239.18V250.53M258.35 238.49V248.92M260.3 237.49V247.6M262.25 234.34V246.15M264.2 232.69V243.04M266.15 230.93V240.99M268.1 228.85V240.78M270.05 228.57V238.76M272 227.9V238.05M273.95 227.43V237.42M275.9 226.72V237.04M277.85 225.87V236.85M279.8 225.22V236.84M281.75 225.25V236.16M283.7 224.84V235.91M285.65 224.88V234.98M287.6 224.08V234.88M289.55 223.27V234.8M291.5 223.64V233.64M293.45 223.1V233.4M295.4 222.47V233.68M297.35 223.58V232.96M299.3 223.28V233.68M301.25 223.32V234.06M303.2 223.79V234.69M305.15 224.99V235.38M307.1 226.34V235.93M309.05 226.79V237.38M311 228.52V238.03M312.95 229.19V239.98M314.9 230.9V240.88M316.85 231.43V242.97M318.8 232.91V243.45M320.75 233.86V244.42M322.7 234.89V244.69M324.65 234.98V245.03M326.6 235.44V244.99M328.55 235.23V245.63M330.5 235.76V245.85M332.45 236.29V246.22M334.4 236.14V247.28M336.35 236.79V247.54M338.3 237.86V247.42M340.25 238.05V248.19M342.2 239.67V248.21M344.15 241.4V249.12" stroke="#6a6a6a" stroke-width="0.85" fill="none"/>
<polygon points="346.1,251.5 348.05,251.69 350,251.88 351.95,252.37 353.9,252.4 355.85,251.64 357.8,251.2 359.75,250.94 361.7,250.21 363.65,249.66 365.6,249.16 367.55,247.61 369.5,246.52 371.45,246.78 373.4,246.75 375.35,246.94 377.3,247.32 379.25,247.56 381.2,247.49 383.15,247.35 385.1,247.6 387.05,247.95 389,248.02 390.95,248.15 392.9,248.58 394.85,248.68 396.8,248.73 398.75,248.97 400.7,249.43 402.65,249.88 404.6,249.8 406.55,250.31 408.5,250.41 410.45,251.25 412.4,250.97 414.35,251.56 416.3,251.68 418.25,252.12 420.2,252.44 422.15,252.42 424.1,252.76 426.05,252.98 428,253.23 429.95,253.62 431.9,253.54 433.85,253.85 435.8,253.74 437.75,253.51 439.7,253.85 441.65,253.56 443.6,253.72 445.55,253.49 447.5,253.32 449.45,253.28 451.4,252.86 453.35,252.73 455.3,252.9 457.25,252.92 459.2,253.18 461.15,252.95 463.1,253.17 465.05,253.5 467,253.57 468.95,253.99 470.9,254.07 472.85,253.53 474.8,253.77 476.75,253.71 478.7,253.94 480.65,253.62 482.6,253.67 484.55,254.11 486.5,253.94 488.45,254.14 490.4,254.13 492.35,254.84 494.3,254.33 496.25,254.25 498.2,253.53 500.15,253.76 502.1,253.67 504.05,253.29 506,253.11 507.95,252.89 509.9,252.83 511.85,253.18 513.8,252.81 515.75,253.42 517.7,253.33 519.65,253.51 521.6,253.89 523.55,253.54 525.5,253.41 527.45,253.32 529.4,252.98 531.35,253.23 533.3,252.96 535.25,252.94 537.2,252.8 539.15,252.97 541.1,253.32 543.05,253.36 545,253.8 546.95,253.93 548.9,254.47 550.85,254.36 552.8,254.94 554.75,255.39 556.7,255.87 558.65,256.42 560.6,256.77 562.55,257.16 564.5,257.4 566.45,257.85 568.4,257.91 570.35,258.39 572.3,258.11 574.25,258.21 576.2,257.92 578.15,257.51 580.1,257.47 582.05,257.34 584,257.73 585.95,257.83 587.9,258 589.85,258.33 589.85,264.93 587.9,264.86 585.95,264.64 584,264.33 582.05,264.32 580.1,263.79 578.15,264.11 576.2,264.2 574.25,264.41 572.3,265.01 570.35,264.8 568.4,264.77 566.45,264.33 564.5,264.28 562.55,264.01 560.6,263.42 558.65,262.79 556.7,262.36 554.75,261.85 552.8,261.31 550.85,260.98 548.9,260.41 546.95,260.49 545,260.16 543.05,260.14 541.1,259.71 539.15,259.61 537.2,259.32 535.25,259.24 533.3,259.47 531.35,259.45 529.4,259.94 527.45,259.84 525.5,260 523.55,260.12 521.6,259.81 519.65,259.95 517.7,259.88 515.75,259.54 513.8,259.91 511.85,259.31 509.9,259.4 507.95,259.12 506,259.37 504.05,259.65 502.1,259.73 500.15,260.11 498.2,260.8 496.25,260.55 494.3,260.93 492.35,260.41 490.4,260.91 488.45,260.68 486.5,260.66 484.55,260.28 482.6,260.5 480.65,260.33 478.7,259.86 476.75,260.09 474.8,260.03 472.85,260.27 470.9,259.73 468.95,259.68 467,259.88 465.05,259.71 463.1,259.81 461.15,259.8 459.2,259.34 457.25,259.37 455.3,259.16 453.35,259.49 451.4,259.67 449.45,259.56 447.5,259.83 445.55,259.96 443.6,260.03 441.65,260.24 439.7,259.95 437.75,260.29 435.8,260.06 433.85,259.95 431.9,260.26 429.95,259.7 428,259.58 426.05,259.32 424.1,259.03 422.15,258.86 420.2,258.34 418.25,258.18 416.3,258.14 414.35,257.78 412.4,257.89 410.45,257.13 408.5,257.45 406.55,256.87 404.6,256.7 402.65,255.95 400.7,255.71 398.75,255.5 396.8,255.15 394.85,254.79 392.9,254.47 390.95,254.5 389,254.22 387.05,254 385.1,254.09 383.15,254.06 381.2,253.66 379.25,253.31 377.3,253.28 375.35,253.39 373.4,253.3 371.45,253 369.5,252.99 367.55,253.68 365.6,255.04 363.65,255.8 361.7,256.52 359.75,257.05 357.8,257.84 355.85,258.03 353.9,257.91 351.95,258.59 350,258.79 348.05,258.11 346.1,257.43" fill="#a6a6a6" stroke="none"/>
<path d="M346.1 251.5V257.43M348.05 251.69V258.11M350 251.88V258.79M351.95 252.37V258.59M353.9 252.4V257.91M355.85 251.64V258.03M357.8 251.2V257.84M359.75 250.94V257.05M361.7 250.21V256.52M363.65 249.66V255.8M365.6 249.16V255.04M367.55 247.61V253.68M369.5 246.52V252.99M371.45 246.78V253M373.4 246.75V253.3M375.35 246.94V253.39M377.3 247.32V253.28M379.25 247.56V253.31M381.2 247.49V253.66M383.15 247.35V254.06M385.1 247.6V254.09M387.05 247.95V254M389 248.02V254.22M390.95 248.15V254.5M392.9 248.58V254.47M394.85 248.68V254.79M396.8 248.73V255.15M398.75 248.97V255.5M400.7 249.43V255.71M402.65 249.88V255.95M404.6 249.8V256.7M406.55 250.31V256.87M408.5 250.41V257.45M410.45 251.25V257.13M412.4 250.97V257.89M414.35 251.56V257.78M416.3 251.68V258.14M418.25 252.12V258.18M420.2 252.44V258.34M422.15 252.42V258.86M424.1 252.76V259.03M426.05 252.98V259.32M428 253.23V259.58M429.95 253.62V259.7M431.9 253.54V260.26M433.85 253.85V259.95M435.8 253.74V260.06M437.75 253.51V260.29M439.7 253.85V259.95M441.65 253.56V260.24M443.6 253.72V260.03M445.55 253.49V259.96M447.5 253.32V259.83M449.45 253.28V259.56M451.4 252.86V259.67M453.35 252.73V259.49M455.3 252.9V259.16M457.25 252.92V259.37M459.2 253.18V259.34M461.15 252.95V259.8M463.1 253.17V259.81M465.05 253.5V259.71M467 253.57V259.88M468.95 253.99V259.68M470.9 254.07V259.73M472.85 253.53V260.27M474.8 253.77V260.03M476.75 253.71V260.09M478.7 253.94V259.86M480.65 253.62V260.33M482.6 253.67V260.5M484.55 254.11V260.28M486.5 253.94V260.66M488.45 254.14V260.68M490.4 254.13V260.91M492.35 254.84V260.41M494.3 254.33V260.93M496.25 254.25V260.55M498.2 253.53V260.8M500.15 253.76V260.11M502.1 253.67V259.73M504.05 253.29V259.65M506 253.11V259.37M507.95 252.89V259.12M509.9 252.83V259.4M511.85 253.18V259.31M513.8 252.81V259.91M515.75 253.42V259.54M517.7 253.33V259.88M519.65 253.51V259.95M521.6 253.89V259.81M523.55 253.54V260.12M525.5 253.41V260M527.45 253.32V259.84M529.4 252.98V259.94M531.35 253.23V259.45M533.3 252.96V259.47M535.25 252.94V259.24M537.2 252.8V259.32M539.15 252.97V259.61M541.1 253.32V259.71M543.05 253.36V260.14M545 253.8V260.16M546.95 253.93V260.49M548.9 254.47V260.41M550.85 254.36V260.98M552.8 254.94V261.31M554.75 255.39V261.85M556.7 255.87V262.36M558.65 256.42V262.79M560.6 256.77V263.42M562.55 257.16V264.01M564.5 257.4V264.28M566.45 257.85V264.33M568.4 257.91V264.77M570.35 258.39V264.8M572.3 258.11V265.01M574.25 258.21V264.41M576.2 257.92V264.2M578.15 257.51V264.11M580.1 257.47V263.79M582.05 257.34V264.32M584 257.73V264.33M585.95 257.83V264.64M587.9 258V264.86M589.85 258.33V264.93" stroke="#8c8c8c" stroke-width="0.8" fill="none"/>
<polyline points="170.2,279.9 170.95,280.62 171.7,281.34 172.45,282.06 173.2,281.18 173.95,278.9 174.7,276.62 175.45,274.54 176.2,273.21 176.95,271.89 177.7,270.56 178.45,269.24 179.2,267.92 179.95,266.59 180.7,265.21 181.45,263.73 182.2,262.25 182.95,260.77 183.7,259.28 184.45,257.91 185.2,256.99 185.95,256.06 186.7,255.14 187.45,254.21 188.2,253.28 188.95,252.36 189.7,251.62 190.45,251.16 191.2,250.7 191.95,250.25 192.7,249.79 193.45,249.33 194.2,248.88 194.95,248.42 195.7,247.96 196.45,247.84 197.2,247.77 197.95,247.7 198.7,247.63 199.45,247.56 200.2,247.49 200.95,247.43 201.7,247.36 202.45,247.29 203.2,247.22 203.95,246.92 204.7,246.54 205.45,246.15 206.2,245.77 206.95,245.39 207.7,245.01 208.45,244.63 209.2,244.36 209.95,244.1 210.7,243.84 211.45,243.58 212.2,243.32 212.95,243.06 213.7,242.8 214.45,242.54 215.2,242.27 215.95,242.01 216.7,241.74 217.45,241.48 218.2,241.21 218.95,241.05 219.7,241.32 220.45,241.58 221.2,241.85 221.95,242.11 222.7,242.38 223.45,242.64 224.2,242.96 224.95,243.36 225.7,243.75 226.45,244.15 227.2,244.55 227.95,244.94 228.7,245.34 229.45,245.84 230.2,246.41 230.95,246.97 231.7,247.54 232.45,248.11 233.2,248.62 233.95,248.81 234.7,249 235.45,249.19 236.2,249.38 236.95,249.56 237.7,249.44 238.45,249.25 239.2,249.05 239.95,248.85 240.7,248.66 241.45,248.46 242.2,248.26 242.95,248.07 243.7,247.9 244.45,247.75 245.2,247.6 245.95,247.45 246.7,247.3 247.45,246.91 248.2,246.05 248.95,245.19 249.7,244.33 250.45,243.47 251.2,242.61 251.95,242.08 252.7,241.59 253.45,241.1 254.2,240.62 254.95,240.13 255.7,240.02 256.45,240.24 257.2,240.46 257.95,240.68 258.7,240.9 259.45,241.13 260.2,241.63 260.95,242.13 261.7,242.63 262.45,243.17 263.2,244.19 263.95,245.22 264.7,246.24 265.45,247.25 266.2,248.06 266.95,248.86 267.7,249.67 268.45,250.47 269.2,251.28 269.95,251.71 270.7,251.9 271.45,252.09 272.2,252.27 272.95,252.46 273.7,252.63 274.45,252.74 275.2,252.85 275.95,252.96 276.7,253.07 277.45,253.18 278.2,253.35 278.95,253.54 279.7,253.72 280.45,253.91 281.2,254.1 281.95,254.29 282.7,254.47 283.45,254.66 284.2,254.85 284.95,255.04 285.7,255.22 286.45,255.41 287.2,255.59 287.95,255.77 288.7,255.96 289.45,256.14 290.2,256.39 290.95,256.67 291.7,256.95 292.45,257.23 293.2,257.51 293.95,257.66 294.7,257.54 295.45,257.42 296.2,257.3 296.95,256.98 297.7,255.87 298.45,254.77 299.2,253.72 299.95,252.7 300.7,251.68 301.45,250.66 302.2,249.64 302.95,249.71 303.7,249.95 304.45,250.2 305.2,250.44 305.95,250.68 306.7,249.79 307.45,248.82 308.2,247.85 308.95,246.87 309.7,245.9 310.45,244.61 311.2,243.32 311.95,242.03 312.7,240.73 313.45,239.45 314.2,238.22 314.95,236.98 315.7,235.74 316.45,234.51 317.2,233.27 317.95,232.03 318.7,230.8 319.45,229.56 320.2,228.32 320.95,227.33 321.7,226.83 322.45,226.33 323.2,225.83 323.95,225.33 324.7,225.2 325.45,225.38 326.2,225.57 326.95,225.75 327.7,225.93 328.45,226.12 329.2,226.3 329.95,226.12 330.7,225.93 331.45,225.75 332.2,225.57 332.95,225.38 333.7,225.2 334.45,224.92 335.2,224.54 335.95,224.16 336.7,223.77 337.45,223.39 338.2,223.01 338.95,222.63 339.7,221.67 340.45,220.67 341.2,219.67 341.95,218.67 342.7,217.6 343.45,216.13 344.2,214.66 344.95,213.19" fill="none" stroke="#1a4ec8" stroke-width="1.1" stroke-linejoin="round" />
<polyline points="345.7,191.55 346.45,189.37 347.2,188.41 347.95,188.47 348.7,188.29 349.45,188.2 350.2,188.42 350.95,188.41 351.7,187.71 352.45,188.98 353.2,190.29 353.95,190.66 354.7,190.4 355.45,191.24 356.2,192.18 356.95,193.28 357.7,194.27 358.45,193.28 359.2,193.71 359.95,195.5 360.7,195.33 361.45,194.92 362.2,191.68 362.95,193.97 363.7,192.14 364.45,196.32 365.2,196.93 365.95,198.05 366.7,198.95 367.45,201.15 368.2,200.44 368.95,201.63 369.7,201.38 370.45,201.36 371.2,201.55 371.95,201.37 372.7,200.5 373.45,202.05 374.2,202.14 374.95,201.41 375.7,202.02 376.45,202.06 377.2,200.22 377.95,201.03 378.7,200.7 379.45,200.25 380.2,201.16 380.95,200.15 381.7,200.39 382.45,200.86 383.2,200.86 383.95,200.76 384.7,202.21 385.45,199.94 386.2,200.5 386.95,199.34 387.7,200.69 388.45,201.22 389.2,201.27 389.95,199.79 390.7,200.08 391.45,201.31 392.2,200.23 392.95,201.07 393.7,199.13 394.45,200.53 395.2,199.75 395.95,198.82 396.7,197.32 397.45,197.34 398.2,197.09 398.95,196.68 399.7,195.88 400.45,195.29 401.2,195.12 401.95,195.58 402.7,192.36 403.45,192.52 404.2,192.21 404.95,192.72 405.7,191.7 406.45,193.36 407.2,192.82 407.95,192.37 408.7,191.85 409.45,192.35 410.2,192.19 410.95,192.14 411.7,191.12 412.45,192.22 413.2,190.53 413.95,192.7 414.7,189.24 415.45,191.23 416.2,190.74 416.95,192.33 417.7,190.51 418.45,193.16 419.2,190.46 419.95,193.32 420.7,191.94 421.45,191.39 422.2,191.49 422.95,192.68 423.7,191.42 424.45,188.7 425.2,191.22 425.95,190.23 426.7,188.59 427.45,190.35 428.2,188.63 428.95,189.59 429.7,189.49 430.45,188.64 431.2,189.53 431.95,188.04 432.7,188.77 433.45,187.95 434.2,188.01 434.95,189.46 435.7,187.78 436.45,186.59 437.2,187.13 437.95,186.6 438.7,187.47 439.45,187.81 440.2,187.99 440.95,188.22 441.7,187.96 442.45,188.99 443.2,189.71 443.95,188.3 444.7,188.63 445.45,188.61 446.2,189.45 446.95,189.19 447.7,187.62 448.45,188.14 449.2,186.87 449.95,187.56 450.7,188.6 451.45,189.35 452.2,189.87 452.95,189.11 453.7,188.54 454.45,190.2 455.2,189.78 455.95,190.12 456.7,189.76 457.45,190.06 458.2,189.87 458.95,189.87 459.7,188.69 460.45,189.71 461.2,188.43 461.95,188.83 462.7,190.18 463.45,188.91 464.2,187.62 464.95,189.67 465.7,189.21 466.45,189.25 467.2,188.42 467.95,188.47 468.7,187.94 469.45,187.49 470.2,189.22 470.95,187.71 471.7,187.62 472.45,187.65 473.2,189.49 473.95,188.65 474.7,187.53 475.45,187.66 476.2,187.99 476.95,188.16 477.7,186.04 478.45,187.93 479.2,186.91 479.95,186.42 480.7,186.53 481.45,187.36 482.2,188.01 482.95,186.67 483.7,186.94 484.45,185.79 485.2,186.78 485.95,187 486.7,185.1 487.45,185.82 488.2,186.81 488.95,184.72 489.7,185.78 490.45,186.5 491.2,184.65 491.95,185.68 492.7,186.04 493.45,186.71 494.2,184.98 494.95,186.89 495.7,186.24 496.45,186.96 497.2,186.93 497.95,186.27 498.7,186.39 499.45,184.6 500.2,184.71 500.95,184.79 501.7,185.13 502.45,185.96 503.2,183.59 503.95,184.57 504.7,183.57 505.45,183.32 506.2,185.94 506.95,185.04 507.7,186.47 508.45,186.3 509.2,184.82 509.95,184.27 510.7,187.6 511.45,185.74 512.2,185.24 512.95,186.79 513.7,186.43 514.45,185.88 515.2,186.22 515.95,186.72 516.7,186.73 517.45,187.37 518.2,186.57 518.95,186.66 519.7,187.48 520.45,187.25 521.2,187.88 521.95,186.8 522.7,186.92 523.45,186.08 524.2,188.2 524.95,185.88 525.7,187.16 526.45,186.29 527.2,187.27 527.95,187.6 528.7,185.76 529.45,186.99 530.2,185.84 530.95,188.45 531.7,187.06 532.45,186.24 533.2,187.03 533.95,188.73 534.7,188.96 535.45,188.87 536.2,187.31 536.95,187.84 537.7,189.17 538.45,187.17 539.2,187.38 539.95,186.78 540.7,186.51 541.45,188.3 542.2,187.74 542.95,187.49 543.7,187.49 544.45,187.74 545.2,188.02 545.95,186.56 546.7,186.03 547.45,185.21 548.2,186.63 548.95,185.09 549.7,184.04 550.45,184.75 551.2,184.72 551.95,185.1 552.7,184.97 553.45,183.31 554.2,182.96 554.95,182.95 555.7,181.87 556.45,182.37 557.2,182.44 557.95,181.72 558.7,180.02 559.45,179.97 560.2,181.63 560.95,179.48 561.7,180.58 562.45,180.2 563.2,179.13 563.95,178.29 564.7,178.95 565.45,177.79 566.2,178.29 566.95,178.45 567.7,177.73 568.45,178.06 569.2,177.93 569.95,177.12 570.7,177.89 571.45,177.59 572.2,176.94 572.95,178.44 573.7,178.78 574.45,178.83 575.2,177.96 575.95,180.54 576.7,180.77 577.45,180.87 578.2,180.67 578.95,179.47 579.7,180.64 580.45,179.87 581.2,182.43 581.95,180.33 582.7,181.33 583.45,179.5 584.2,179.76 584.95,180.22 585.7,181.17 586.45,180.99 587.2,180.74 587.95,178.98 588.7,181.32 589.45,179.63 590.2,181.61" fill="none" stroke="#1a4ec8" stroke-width="1.1" stroke-linejoin="round" />
<polyline points="170.2,278.6 170.95,278.41 171.7,278.22 172.45,278.03 173.2,277.84 173.95,277.64 174.7,277.45 175.45,277.3 176.2,277.3 176.95,277.3 177.7,277.3 178.45,277.3 179.2,277.3 179.95,277.3 180.7,277.11 181.45,276.63 182.2,276.15 182.95,275.67 183.7,275.18 184.45,274.65 185.2,273.88 185.95,273.11 186.7,272.34 187.45,271.57 188.2,270.83 188.95,270.34 189.7,269.84 190.45,269.34 191.2,268.85 191.95,268.35 192.7,267.85 193.45,267.36 194.2,266.86 194.95,266.36 195.7,265.87 196.45,265.43 197.2,265.01 197.95,264.58 198.7,264.16 199.45,263.73 200.2,263.31 200.95,262.89 201.7,262.46 202.45,262.04 203.2,261.61 203.95,261.26 204.7,260.93 205.45,260.59 206.2,260.26 206.95,259.93 207.7,259.6 208.45,259.27 209.2,258.94 209.95,258.61 210.7,258.28 211.45,258.02 212.2,257.86 212.95,257.69 213.7,257.53 214.45,257.36 215.2,257.19 215.95,257.03 216.7,256.86 217.45,256.7 218.2,256.53 218.95,256.32 219.7,255.91 220.45,255.51 221.2,255.11 221.95,254.7 222.7,254.3 223.45,253.89 224.2,253.49 224.95,253.08 225.7,252.68 226.45,252.29 227.2,252.18 227.95,252.07 228.7,251.96 229.45,251.85 230.2,251.73 230.95,251.62 231.7,251.36 232.45,251.06 233.2,250.76 233.95,250.46 234.7,250.16 235.45,249.86 236.2,249.56 236.95,249.26 237.7,249.04 238.45,248.85 239.2,248.65 239.95,248.45 240.7,248.26 241.45,248.06 242.2,247.86 242.95,247.67 243.7,247.51 244.45,247.37 245.2,247.24 245.95,247.1 246.7,246.97 247.45,246.83 248.2,246.7 248.95,246.56 249.7,246.43 250.45,246.31 251.2,246.18 251.95,246.06 252.7,245.93 253.45,245.81 254.2,245.68 254.95,245.56 255.7,245.26 256.45,244.82 257.2,244.38 257.95,243.94 258.7,243.5 259.45,243.06 260.2,242.62 260.95,241.83 261.7,240.91 262.45,240 263.2,239.08 263.95,238.17 264.7,237.25 265.45,236.37 266.2,235.93 266.95,235.49 267.7,235.05 268.45,234.61 269.2,234.16 269.95,233.72 270.7,233.34 271.45,233.13 272.2,232.92 272.95,232.71 273.7,232.5 274.45,232.29 275.2,232.08 275.95,231.86 276.7,231.65 277.45,231.44 278.2,231.3 278.95,231.18 279.7,231.05 280.45,230.93 281.2,230.8 281.95,230.68 282.7,230.55 283.45,230.43 284.2,230.26 284.95,230.09 285.7,229.92 286.45,229.75 287.2,229.57 287.95,229.4 288.7,229.23 289.45,229.06 290.2,228.9 290.95,228.75 291.7,228.6 292.45,228.45 293.2,228.3 293.95,228.15 294.7,228 295.45,228.08 296.2,228.16 296.95,228.23 297.7,228.31 298.45,228.39 299.2,228.47 299.95,228.55 300.7,228.63 301.45,228.71 302.2,228.79 302.95,229.12 303.7,229.48 304.45,229.85 305.2,230.21 305.95,230.58 306.7,230.94 307.45,231.31 308.2,231.67 308.95,232.04 309.7,232.4 310.45,232.9 311.2,233.41 311.95,233.91 312.7,234.41 313.45,234.92 314.2,235.42 314.95,235.92 315.7,236.43 316.45,236.93 317.2,237.4 317.95,237.77 318.7,238.13 319.45,238.5 320.2,238.87 320.95,239.23 321.7,239.6 322.45,239.76 323.2,239.84 323.95,239.92 324.7,240.01 325.45,240.09 326.2,240.17 326.95,240.25 327.7,240.34 328.45,240.42 329.2,240.5 329.95,240.67 330.7,240.85 331.45,241.02 332.2,241.2 332.95,241.37 333.7,241.55 334.45,241.72 335.2,241.9 335.95,242.07 336.7,242.25 337.45,242.43 338.2,242.62 338.95,242.8 339.7,242.98 340.45,243.17 341.2,243.35 341.95,243.77 342.7,244.28 343.45,244.79 344.2,245.29 344.95,245.8" fill="none" stroke="#111" stroke-width="1.2" stroke-linejoin="round" />
<polyline points="345.7,253.19 346.45,255.02 347.2,254.9 347.95,254.18 348.7,255.5 349.45,254.8 350.2,254.64 350.95,255.15 351.7,255.15 352.45,255.69 353.2,254.91 353.95,255.89 354.7,255.14 355.45,254.54 356.2,254.36 356.95,254.77 357.7,253.52 358.45,253.32 359.2,253.73 359.95,254.24 360.7,253.78 361.45,253.45 362.2,253.09 362.95,251.87 363.7,252.55 364.45,251.58 365.2,252.64 365.95,251.95 366.7,251.3 367.45,250.93 368.2,250.27 368.95,249.83 369.7,249.94 370.45,249.53 371.2,249.21 371.95,250.1 372.7,250.7 373.45,250.54 374.2,249.98 374.95,250.44 375.7,249.97 376.45,250.43 377.2,249.99 377.95,250.42 378.7,251.4 379.45,250.84 380.2,251.25 380.95,250.17 381.7,250.26 382.45,250.64 383.2,250.99 383.95,250.66 384.7,251.32 385.45,250.59 386.2,251.6 386.95,251.46 387.7,250.47 388.45,251.37 389.2,251.03 389.95,251.73 390.7,251.03 391.45,251.53 392.2,251.73 392.95,250.16 393.7,250.67 394.45,251.76 395.2,251.71 395.95,252.36 396.7,252.04 397.45,251.37 398.2,252.3 398.95,251.89 399.7,252.29 400.45,252.28 401.2,252.84 401.95,252.08 402.7,252.36 403.45,251.94 404.2,254.25 404.95,252.81 405.7,253.01 406.45,253 407.2,253.38 407.95,253.62 408.7,254.27 409.45,254.16 410.2,254.32 410.95,253.96 411.7,254.31 412.45,255.04 413.2,254.52 413.95,254.77 414.7,253.7 415.45,255.06 416.2,255.03 416.95,255.63 417.7,253.7 418.45,255.18 419.2,255.2 419.95,255.4 420.7,255.13 421.45,255.65 422.2,255.99 422.95,255.76 423.7,255.69 424.45,255.83 425.2,255.84 425.95,256.15 426.7,255.87 427.45,255.33 428.2,257.1 428.95,255.64 429.7,256.56 430.45,256.06 431.2,256.67 431.95,256.4 432.7,256.87 433.45,256.47 434.2,256.24 434.95,257.04 435.7,257.55 436.45,257.06 437.2,256.94 437.95,256.36 438.7,256.84 439.45,257.11 440.2,256.56 440.95,257.33 441.7,256.86 442.45,257.06 443.2,256.63 443.95,256.58 444.7,256.88 445.45,256.9 446.2,256.83 446.95,256.08 447.7,256.17 448.45,256.46 449.2,255.49 449.95,256.88 450.7,256.46 451.45,256.26 452.2,255.82 452.95,256.53 453.7,255.93 454.45,256.95 455.2,256.2 455.95,255.3 456.7,256.45 457.45,255.87 458.2,255.92 458.95,256.1 459.7,256.2 460.45,256.43 461.2,256.73 461.95,256.62 462.7,256.08 463.45,255.81 464.2,256.13 464.95,256.75 465.7,257.05 466.45,257.56 467.2,256.03 467.95,256.79 468.7,256.68 469.45,256.64 470.2,256.94 470.95,256.75 471.7,256.74 472.45,256.55 473.2,257.07 473.95,257.4 474.7,257.69 475.45,256.61 476.2,256.34 476.95,256.74 477.7,256.45 478.45,257.39 479.2,256.46 479.95,256.94 480.7,256.28 481.45,256.82 482.2,257.13 482.95,257.84 483.7,256.77 484.45,257.34 485.2,256.16 485.95,256.64 486.7,256.87 487.45,257.07 488.2,257.58 488.95,257.72 489.7,256.64 490.45,257.75 491.2,256.97 491.95,258.49 492.7,257.77 493.45,257.73 494.2,257.52 494.95,257.5 495.7,257.43 496.45,257 497.2,257.63 497.95,257.3 498.7,257.45 499.45,256.95 500.2,257.24 500.95,256.43 501.7,258.5 502.45,256.27 503.2,256.32 503.95,256.93 504.7,256.98 505.45,255.87 506.2,255.35 506.95,255.39 507.7,255.51 508.45,255.6 509.2,255.96 509.95,256.6 510.7,256.68 511.45,255.88 512.2,256.5 512.95,256.72 513.7,257.03 514.45,256.29 515.2,256.05 515.95,256.84 516.7,257.27 517.45,256.3 518.2,257.58 518.95,257.51 519.7,256.57 520.45,255.96 521.2,256.49 521.95,256.66 522.7,257.11 523.45,255.97 524.2,257.97 524.95,257.88 525.7,256.3 526.45,255.68 527.2,256.48 527.95,256.73 528.7,257.14 529.45,256.78 530.2,256.27 530.95,255.34 531.7,256.54 532.45,256.65 533.2,256.03 533.95,256.28 534.7,256.19 535.45,255.92 536.2,255.42 536.95,256.17 537.7,255.37 538.45,256.87 539.2,255.81 539.95,256.59 540.7,256.07 541.45,256.71 542.2,256.51 542.95,256.97 543.7,256.39 544.45,256.06 545.2,256.83 545.95,256.88 546.7,256.39 547.45,256.89 548.2,256.48 548.95,257.47 549.7,257.31 550.45,257.59 551.2,258.99 551.95,257.96 552.7,258.25 553.45,258.57 554.2,258.37 554.95,258.34 555.7,259.26 556.45,259.53 557.2,257.74 557.95,259.31 558.7,259.41 559.45,259.49 560.2,260.58 560.95,259.88 561.7,260.77 562.45,260.25 563.2,260.43 563.95,261.1 564.7,260.46 565.45,260.84 566.2,260.47 566.95,260.67 567.7,261.57 568.45,261.6 569.2,260.83 569.95,260.91 570.7,262.87 571.45,261.31 572.2,261.1 572.95,261.69 573.7,260.95 574.45,261.06 575.2,261.6 575.95,261.55 576.7,260.86 577.45,261.53 578.2,260.69 578.95,260.55 579.7,260.57 580.45,260.47 581.2,260.97 581.95,260.92 582.7,260.47 583.45,261.03 584.2,260.74 584.95,260.8 585.7,261.1 586.45,261.75 587.2,261.46 587.95,262.03 588.7,262.26 589.45,261.53 590.2,261.33" fill="none" stroke="#111" stroke-width="1.2" stroke-linejoin="round" />
<polyline points="170.2,285 172.8,246.6 175.3,216 179.2,198.1 181.9,188 184.3,203.2 186.8,216 189.4,221.1 191.9,233.9 194.5,244.1 198.3,250.5 200.9,251.8 203.4,249.2 207.3,246.6 209.8,254.3 213.7,256.9 217.5,264.5 221.3,270.9 225.2,273.5 227.7,272.2 230,270.9 233.1,262.7 237.1,258.7 241.2,256.7 245.2,253.6 249.3,248 251.3,248.6 254.3,255.6 257.3,263.7 260.4,267.8 262.4,275.9 264.4,287 266.4,283.9 269.5,275.9 272.5,269.8 275.5,267.8 278.6,268.8 280.6,266.8 282.6,273.8 285.6,269.8 289.7,276.9 292.7,273.8 295.8,263.7 297.8,255.6 301.1,248.3 303.6,255.6 306,263 308.4,258.1 312.1,238.5 315.8,233.6 319.4,243.4 321.9,258.1 325.5,267.8 329.2,277.6 334.1,270.3 339,255.6 342.6,233.6 345.1,211.6 346.3,258.1 348.8,267.8 352.4,272.7 356.1,270.3 358.5,275.2 361,269.1 363.4,280.1 365.9,275.2 368.3,282.5 370,276.11 372.02,271.89 373.81,280.17 375.34,273.17 376.92,271.82 378.51,262.04 380.77,274.2 383.05,258 384.67,273.18 386.82,268 388.83,278.72 390.38,263.41 392.43,274.94 394.4,270.56 396.53,283.17 398.49,269.3 400.58,272.37 402.17,267.19 403.79,280.88 405.9,270.4 407.65,278.75 409.62,260.59 411.87,269.38 413.42,262.7 415.72,278.04 417.53,269.05 419.16,268.56 421.27,269.05 423.09,271.92 424.95,260.15 427.1,277.28 428.93,271.13 431.2,269.45 432.89,268.66 434.86,287 436.65,272.19 438.7,275.28 440.75,266.88 442.87,271.76 444.68,268.28 446.69,274.25 448.36,274.58 449.9,269.13 451.69,258 453.31,272.12 455.1,267.62 457.4,284.42 458.96,266.49 460.68,281.1 462.19,271.86 463.81,283.3 466.09,268.26 467.8,274 469.92,265.4 471.68,275.51 473.97,271.45 476.13,270.33 478.04,262.61 479.77,279.56 482.03,267.47 484.32,272.31 486,269.66 487.66,276.19 489.83,269.12 491.97,274.42 494.2,266.94 496.08,275.77 497.85,271.73 499.67,276.32 501.75,271.19 503.37,273.04 504.98,260.21 507.01,271.6 508.61,258 510.54,273.52 512.73,273.47 514.43,278.98 516.4,271.73 518.01,270.24 519.87,261.73 521.71,272.44 523.64,270.74 525.28,265.52 527.16,266.38 528.92,273.07 531.05,268.16 532.75,282.12 534.66,269.85 536.89,272.31 538.79,268.12 540.65,284.55 542.9,265.92 545.16,277.05 547.41,264.49 549.01,272.13 550.7,265.83 552.83,279.39 554.9,270.92 557.11,274.14 559.37,265.69 561.66,273.81 563.51,267.75 565.16,277.64 566.68,261.61 568.19,273.38 570.1,273.58 572.24,274.95 573.95,258.96 575.55,275.03 577.71,267.99 579.94,275.38 581.51,267.19 583.35,279.05 585.36,268.11 587.55,275.93 589.41,268.28" fill="none" stroke="#b942d6" stroke-width="1.1" stroke-linejoin="round" />
<line x1="64.5" y1="156.4" x2="591.5" y2="156.4" stroke="#000" stroke-width="1" />
<line x1="64.5" y1="288.4" x2="591.5" y2="288.4" stroke="#000" stroke-width="1" />
<line x1="64.5" y1="156.4" x2="64.5" y2="288.4" stroke="#000" stroke-width="1" />
<line x1="591.5" y1="156.4" x2="591.5" y2="288.4" stroke="#b942d6" stroke-width="1" />
<line x1="89.2" y1="288.4" x2="89.2" y2="286.8" stroke="#000" stroke-width="1" />
<line x1="89.2" y1="156.4" x2="89.2" y2="158" stroke="#000" stroke-width="1" />
<line x1="114.32" y1="288.4" x2="114.32" y2="286.8" stroke="#000" stroke-width="1" />
<line x1="114.32" y1="156.4" x2="114.32" y2="158" stroke="#000" stroke-width="1" />
<line x1="139.44" y1="288.4" x2="139.44" y2="285.4" stroke="#000" stroke-width="1" />
<line x1="139.44" y1="156.4" x2="139.44" y2="159.4" stroke="#000" stroke-width="1" />
<text x="140.24" y="301.2" font-size="10.5" fill="#000" text-anchor="middle" >13:30</text>
<line x1="164.56" y1="288.4" x2="164.56" y2="286.8" stroke="#000" stroke-width="1" />
<line x1="164.56" y1="156.4" x2="164.56" y2="158" stroke="#000" stroke-width="1" />
<line x1="189.68" y1="288.4" x2="189.68" y2="286.8" stroke="#000" stroke-width="1" />
<line x1="189.68" y1="156.4" x2="189.68" y2="158" stroke="#000" stroke-width="1" />
<line x1="214.8" y1="288.4" x2="214.8" y2="285.4" stroke="#000" stroke-width="1" />
<line x1="214.8" y1="156.4" x2="214.8" y2="159.4" stroke="#000" stroke-width="1" />
<text x="215.6" y="301.2" font-size="10.5" fill="#000" text-anchor="middle" >13:45</text>
<line x1="239.92" y1="288.4" x2="239.92" y2="286.8" stroke="#000" stroke-width="1" />
<line x1="239.92" y1="156.4" x2="239.92" y2="158" stroke="#000" stroke-width="1" />
<line x1="265.04" y1="288.4" x2="265.04" y2="286.8" stroke="#000" stroke-width="1" />
<line x1="265.04" y1="156.4" x2="265.04" y2="158" stroke="#000" stroke-width="1" />
<line x1="290.16" y1="288.4" x2="290.16" y2="285.4" stroke="#000" stroke-width="1" />
<line x1="290.16" y1="156.4" x2="290.16" y2="159.4" stroke="#000" stroke-width="1" />
<text x="290.96" y="301.2" font-size="10.5" fill="#000" text-anchor="middle" >14:00</text>
<line x1="315.28" y1="288.4" x2="315.28" y2="286.8" stroke="#000" stroke-width="1" />
<line x1="315.28" y1="156.4" x2="315.28" y2="158" stroke="#000" stroke-width="1" />
<line x1="340.4" y1="288.4" x2="340.4" y2="286.8" stroke="#000" stroke-width="1" />
<line x1="340.4" y1="156.4" x2="340.4" y2="158" stroke="#000" stroke-width="1" />
<line x1="365.52" y1="288.4" x2="365.52" y2="285.4" stroke="#000" stroke-width="1" />
<line x1="365.52" y1="156.4" x2="365.52" y2="159.4" stroke="#000" stroke-width="1" />
<text x="366.32" y="301.2" font-size="10.5" fill="#000" text-anchor="middle" >14:15</text>
<line x1="390.64" y1="288.4" x2="390.64" y2="286.8" stroke="#000" stroke-width="1" />
<line x1="390.64" y1="156.4" x2="390.64" y2="158" stroke="#000" stroke-width="1" />
<line x1="415.76" y1="288.4" x2="415.76" y2="286.8" stroke="#000" stroke-width="1" />
<line x1="415.76" y1="156.4" x2="415.76" y2="158" stroke="#000" stroke-width="1" />
<line x1="440.88" y1="288.4" x2="440.88" y2="285.4" stroke="#000" stroke-width="1" />
<line x1="440.88" y1="156.4" x2="440.88" y2="159.4" stroke="#000" stroke-width="1" />
<text x="441.68" y="301.2" font-size="10.5" fill="#000" text-anchor="middle" >14:30</text>
<line x1="466" y1="288.4" x2="466" y2="286.8" stroke="#000" stroke-width="1" />
<line x1="466" y1="156.4" x2="466" y2="158" stroke="#000" stroke-width="1" />
<line x1="491.12" y1="288.4" x2="491.12" y2="286.8" stroke="#000" stroke-width="1" />
<line x1="491.12" y1="156.4" x2="491.12" y2="158" stroke="#000" stroke-width="1" />
<line x1="516.24" y1="288.4" x2="516.24" y2="285.4" stroke="#000" stroke-width="1" />
<line x1="516.24" y1="156.4" x2="516.24" y2="159.4" stroke="#000" stroke-width="1" />
<text x="517.04" y="301.2" font-size="10.5" fill="#000" text-anchor="middle" >14:45</text>
<line x1="541.36" y1="288.4" x2="541.36" y2="286.8" stroke="#000" stroke-width="1" />
<line x1="541.36" y1="156.4" x2="541.36" y2="158" stroke="#000" stroke-width="1" />
<line x1="566.48" y1="288.4" x2="566.48" y2="286.8" stroke="#000" stroke-width="1" />
<line x1="566.48" y1="156.4" x2="566.48" y2="158" stroke="#000" stroke-width="1" />
<text x="592.4" y="301.2" font-size="10.5" fill="#000" text-anchor="middle" >15:00</text>
<line x1="64.5" y1="288.4" x2="74.5" y2="288.4" stroke="#000" stroke-width="1" />
<line x1="64.5" y1="283.12" x2="69.5" y2="283.12" stroke="#000" stroke-width="1" />
<line x1="64.5" y1="277.84" x2="69.5" y2="277.84" stroke="#000" stroke-width="1" />
<line x1="64.5" y1="272.56" x2="69.5" y2="272.56" stroke="#000" stroke-width="1" />
<line x1="64.5" y1="267.28" x2="69.5" y2="267.28" stroke="#000" stroke-width="1" />
<line x1="64.5" y1="262" x2="74.5" y2="262" stroke="#000" stroke-width="1" />
<line x1="64.5" y1="256.72" x2="69.5" y2="256.72" stroke="#000" stroke-width="1" />
<line x1="64.5" y1="251.44" x2="69.5" y2="251.44" stroke="#000" stroke-width="1" />
<line x1="64.5" y1="246.16" x2="69.5" y2="246.16" stroke="#000" stroke-width="1" />
<line x1="64.5" y1="240.88" x2="69.5" y2="240.88" stroke="#000" stroke-width="1" />
<line x1="64.5" y1="235.6" x2="74.5" y2="235.6" stroke="#000" stroke-width="1" />
<line x1="64.5" y1="230.32" x2="69.5" y2="230.32" stroke="#000" stroke-width="1" />
<line x1="64.5" y1="225.04" x2="69.5" y2="225.04" stroke="#000" stroke-width="1" />
<line x1="64.5" y1="219.76" x2="69.5" y2="219.76" stroke="#000" stroke-width="1" />
<line x1="64.5" y1="214.48" x2="69.5" y2="214.48" stroke="#000" stroke-width="1" />
<line x1="64.5" y1="209.2" x2="74.5" y2="209.2" stroke="#000" stroke-width="1" />
<line x1="64.5" y1="203.92" x2="69.5" y2="203.92" stroke="#000" stroke-width="1" />
<line x1="64.5" y1="198.64" x2="69.5" y2="198.64" stroke="#000" stroke-width="1" />
<line x1="64.5" y1="193.36" x2="69.5" y2="193.36" stroke="#000" stroke-width="1" />
<line x1="64.5" y1="188.08" x2="69.5" y2="188.08" stroke="#000" stroke-width="1" />
<line x1="64.5" y1="182.8" x2="74.5" y2="182.8" stroke="#000" stroke-width="1" />
<line x1="64.5" y1="177.52" x2="69.5" y2="177.52" stroke="#000" stroke-width="1" />
<line x1="64.5" y1="172.24" x2="69.5" y2="172.24" stroke="#000" stroke-width="1" />
<line x1="64.5" y1="166.96" x2="69.5" y2="166.96" stroke="#000" stroke-width="1" />
<line x1="64.5" y1="161.68" x2="69.5" y2="161.68" stroke="#000" stroke-width="1" />
<line x1="64.5" y1="156.4" x2="74.5" y2="156.4" stroke="#000" stroke-width="1" />
<text x="58.6" y="292.1" font-size="10.5" fill="#000" text-anchor="end" >0</text>
<text y="265.7" font-size="10.5" fill="#000" x="59" text-anchor="end">5.0&#215;10<tspan font-size="7.9" dy="-4.5">20</tspan></text>
<text y="239.3" font-size="10.5" fill="#000" x="59" text-anchor="end">1.0&#215;10<tspan font-size="7.9" dy="-4.5">21</tspan></text>
<text y="212.9" font-size="10.5" fill="#000" x="59" text-anchor="end">1.5&#215;10<tspan font-size="7.9" dy="-4.5">21</tspan></text>
<text y="186.5" font-size="10.5" fill="#000" x="59" text-anchor="end">2.0&#215;10<tspan font-size="7.9" dy="-4.5">21</tspan></text>
<text y="162.5" font-size="10.5" fill="#000" x="59" text-anchor="end">2.5&#215;10<tspan font-size="7.9" dy="-4.5">21</tspan></text>
<line x1="591.5" y1="288.4" x2="586.5" y2="288.4" stroke="#b942d6" stroke-width="1" />
<line x1="591.5" y1="280.64" x2="586.5" y2="280.64" stroke="#b942d6" stroke-width="1" />
<line x1="591.5" y1="272.87" x2="581.5" y2="272.87" stroke="#b942d6" stroke-width="1" />
<line x1="591.5" y1="265.11" x2="586.5" y2="265.11" stroke="#b942d6" stroke-width="1" />
<line x1="591.5" y1="257.34" x2="586.5" y2="257.34" stroke="#b942d6" stroke-width="1" />
<line x1="591.5" y1="249.58" x2="586.5" y2="249.58" stroke="#b942d6" stroke-width="1" />
<line x1="591.5" y1="241.81" x2="586.5" y2="241.81" stroke="#b942d6" stroke-width="1" />
<line x1="591.5" y1="234.05" x2="581.5" y2="234.05" stroke="#b942d6" stroke-width="1" />
<line x1="591.5" y1="226.28" x2="586.5" y2="226.28" stroke="#b942d6" stroke-width="1" />
<line x1="591.5" y1="218.52" x2="586.5" y2="218.52" stroke="#b942d6" stroke-width="1" />
<line x1="591.5" y1="210.75" x2="586.5" y2="210.75" stroke="#b942d6" stroke-width="1" />
<line x1="591.5" y1="202.99" x2="586.5" y2="202.99" stroke="#b942d6" stroke-width="1" />
<line x1="591.5" y1="195.22" x2="581.5" y2="195.22" stroke="#b942d6" stroke-width="1" />
<line x1="591.5" y1="187.46" x2="586.5" y2="187.46" stroke="#b942d6" stroke-width="1" />
<line x1="591.5" y1="179.69" x2="586.5" y2="179.69" stroke="#b942d6" stroke-width="1" />
<line x1="591.5" y1="171.93" x2="586.5" y2="171.93" stroke="#b942d6" stroke-width="1" />
<line x1="591.5" y1="164.16" x2="586.5" y2="164.16" stroke="#b942d6" stroke-width="1" />
<line x1="591.5" y1="156.4" x2="581.5" y2="156.4" stroke="#b942d6" stroke-width="1" />
<text x="594.6" y="276.57" font-size="10.5" fill="#b942d6" text-anchor="start" >0</text>
<text y="237.75" font-size="10.5" fill="#b942d6" x="596.2" text-anchor="start">5.0&#215;10<tspan font-size="7.9" dy="-4.5">19</tspan></text>
<text y="198.92" font-size="10.5" fill="#b942d6" x="597.4" text-anchor="start">1.0&#215;10<tspan font-size="7.9" dy="-4.5">20</tspan></text>
<text y="162.9" font-size="10.5" fill="#b942d6" x="597.4" text-anchor="start">1.5&#215;10<tspan font-size="7.9" dy="-4.5">20</tspan></text>
<text transform="translate(7.6,222) rotate(-90)" font-size="10.0" fill="#000" text-anchor="middle">Maxwell</text>
<text transform="translate(658,222.2) rotate(-90)" font-size="10.4" fill="#b942d6" text-anchor="middle">Maxwell S<tspan font-size="7.7" dy="-4.6">&#8722;1</tspan></text>
<text x="78.2" y="174.9" font-size="17.8" fill="#000" text-anchor="start" font-weight="bold">b</text>
<text transform="translate(78.3,203.8) scale(0.83,1)" font-family="&quot;Liberation Serif&quot;, serif" font-size="15" font-style="italic" fill="#1a4ec8">&#934;</text>
<text fill="#1a4ec8"><tspan x="87.7" y="205.5" font-size="9.0">p</tspan></text>
<text transform="translate(78.5,221) scale(0.83,1)" font-family="&quot;Liberation Serif&quot;, serif" font-size="15" font-style="italic" fill="#000">&#934;</text>
<text fill="#000"><tspan x="88.4" y="222.2" font-size="9.0">t</tspan></text>
<text transform="translate(85.9,237.7) scale(0.83,1)" font-family="&quot;Liberation Serif&quot;, serif" font-size="15" font-style="italic" fill="#b942d6">&#934;</text>
<text fill="#b942d6"><tspan x="78" y="237.3" font-size="12.4">d</tspan><tspan x="96.3" y="239.3" font-size="9.0">r</tspan><tspan x="101" y="237.3" font-size="12.4">/</tspan><tspan x="107.3" y="237.3" font-size="12.4">d</tspan><tspan x="116" y="237.3" font-size="12.4" font-style="italic">t</tspan></text>
<path d="M170 429.11V430.72M172.05 429.87V431.43M174.1 427.55V429.32M176.15 423.79V425.61M178.2 420.17V421.76M180.25 416.86V418.51M182.3 413.53V415.37M184.35 412.15V413.68M186.4 413.56V415.16M188.45 415V416.86M190.5 415.62V417.58M192.55 416.11V418.04M194.6 416.53V418.58M196.65 417.25V419.39M198.7 418.1V420.14M200.75 418.98V420.85M202.8 419.48V421.72M204.85 420.19V422.38M206.9 420.36V422.44M208.95 420.49V422.31M211 420.39V422.41M213.05 420.58V422.22M215.1 420.44V422.36M217.15 420.62V422.21M219.2 420.77V422.68M221.25 420.97V423.12M223.3 421.78V423.78M225.35 422.47V424.73M227.4 422.93V425.75M229.45 423.02V427.05M231.5 423.2V428.26M233.55 422.89V429.52M235.6 423.22V429.87M237.65 423.2V430.56M239.7 423.39V431.03M241.75 424.04V431.06M243.8 424.76V431.01M245.85 423.95V431.18M247.9 423.04V430.77M249.95 422.54V429.94M252 422.22V429.48M254.05 421.75V429.46M256.1 421.5V429.49M258.15 423.24V429.03M260.2 422.65V430.91M262.25 423.74V431.64M264.3 424.83V432.63M266.35 426.15V433.39M268.4 426.44V434.22M270.45 426.62V434.71M272.5 427.57V434.43M274.55 427.01V435.33M276.6 427.29V435.26M278.65 426.91V435.83M280.7 427.23V435.71M282.75 427.75V435.68M284.8 427.98V436.05M286.85 428.09V436.54M288.9 428.55V436.68M290.95 428.7V437.08M293 429.37V436.95M295.05 429.81V437.05M297.1 429.32V436.99M299.15 429.12V436.25M301.2 428.44V435.99M303.25 427.72V435.98M305.3 428.02V435.02M307.35 427.56V434.81M309.4 425.96V434.47M311.45 425.16V432.85M313.5 423.78V431.81M315.55 423.11V430.36M317.6 422.04V429.41M319.65 420.8V428.64M321.7 419.65V428.73M323.75 419.63V427.95M325.8 419.91V426.88M327.85 419.51V427.84M329.9 419.86V428.49M331.95 419.62V428.1M334 419.87V427.12M336.05 419.14V427.14M338.1 417.97V427.37M340.15 418.26V425.7M342.2 417.09V425.35M344.25 416.21V423.77" stroke="#f6a244" stroke-width="1.0" fill="none"/>
<polygon points="346.3,403.83 348.35,401.26 350.4,399.99 352.45,401.33 354.5,403.09 356.55,404.05 358.6,405.16 360.65,405.7 362.7,404.51 364.75,406.24 366.8,408.23 368.85,409.96 370.9,410.63 372.95,410.68 375,410.95 377.05,410.89 379.1,410.78 381.15,410.34 383.2,409.71 385.25,409.9 387.3,410.06 389.35,409.82 391.4,410.14 393.45,410.48 395.5,409.3 397.55,408.26 399.6,407.2 401.65,405.97 403.7,404.8 405.75,403.99 407.8,402.91 409.85,402.83 411.9,402.49 413.95,402.43 416,402.72 418.05,402.57 420.1,401.79 422.15,401.77 424.2,401.96 426.25,402.11 428.3,401.84 430.35,401.17 432.4,400.82 434.45,400.08 436.5,400.04 438.55,399.9 440.6,399.84 442.65,400.4 444.7,399.86 446.75,399.5 448.8,399.23 450.85,399.61 452.9,400.59 454.95,402.09 457,401.75 459.05,400.23 461.1,399.22 463.15,400.01 465.2,401.55 467.25,401.39 469.3,401.2 471.35,401.19 473.4,401.31 475.45,400.47 477.5,400.47 479.55,400.46 481.6,400.24 483.65,399.12 485.7,398.3 487.75,397.64 489.8,397.12 491.85,396.92 493.9,396.23 495.95,397.83 498,399.55 500.05,398.36 502.1,396.6 504.15,395.4 506.2,395.86 508.25,396.33 510.3,396.49 512.35,397.41 514.4,397.54 516.45,398.63 518.5,399.12 520.55,399.55 522.6,398.93 524.65,398.52 526.7,398.19 528.75,398.98 530.8,399.25 532.85,400.1 534.9,400.43 536.95,400.51 539,400.08 541.05,399.33 543.1,398.61 545.15,398.08 547.2,397.66 549.25,397.3 551.3,397.14 553.35,396.64 555.4,395.82 557.45,395.33 559.5,392.81 561.55,390.1 563.6,389.39 565.65,388.65 567.7,388.42 569.75,389.01 571.8,389.93 573.85,390.44 575.9,392.22 577.95,393.33 580,392.82 582.05,392.33 584.1,392.45 586.15,391.93 588.2,391.1 590.25,390.91 590.25,395.78 588.2,396.32 586.15,396.22 584.1,396.43 582.05,397.26 580,397.46 577.95,397.65 575.9,396.89 573.85,395.63 571.8,394.38 569.75,393.92 567.7,393.11 565.65,394 563.6,394.65 561.55,395.48 559.5,397.74 557.45,399.97 555.4,400.87 553.35,401.44 551.3,402.16 549.25,402.46 547.2,402.56 545.15,402.61 543.1,403.01 541.05,404.09 539,405.15 536.95,405.49 534.9,405.16 532.85,405.08 530.8,404.93 528.75,403.82 526.7,403.21 524.65,403.17 522.6,403.73 520.55,404.08 518.5,403.69 516.45,402.99 514.4,402.89 512.35,401.83 510.3,401.9 508.25,401.22 506.2,400.74 504.15,400.17 502.1,401.2 500.05,403.54 498,404.45 495.95,402.07 493.9,401.31 491.85,401.61 489.8,402.39 487.75,402.86 485.7,403.38 483.65,403.95 481.6,404.22 479.55,404.85 477.5,405.36 475.45,405.88 473.4,405.56 471.35,405.96 469.3,406.16 467.25,406.19 465.2,406.23 463.15,405.05 461.1,403.91 459.05,405.64 457,406.85 454.95,406.98 452.9,405.74 450.85,403.99 448.8,403.82 446.75,404.25 444.7,404.58 442.65,404.75 440.6,405.21 438.55,404.98 436.5,404.68 434.45,404.82 432.4,405.44 430.35,406.46 428.3,406.56 426.25,406.29 424.2,406.44 422.15,406.95 420.1,407.42 418.05,407.12 416,407.45 413.95,407.77 411.9,407.71 409.85,407.37 407.8,407.79 405.75,408.76 403.7,410.01 401.65,410.93 399.6,411.79 397.55,412.77 395.5,413.74 393.45,414.58 391.4,414.99 389.35,414.98 387.3,414.43 385.25,414.38 383.2,415.23 381.15,415.25 379.1,415.47 377.05,415.71 375,415.65 372.95,415.92 370.9,415.97 368.85,414.6 366.8,413.63 364.75,411.66 362.7,409.56 360.65,409.73 358.6,409.64 356.55,408.7 354.5,407.58 352.45,406.6 350.4,405.21 348.35,405.91 346.3,408.16" fill="#f8b27a" stroke="none"/>
<polyline points="169.5,429.6 170,429.92 170.5,430.24 171,430.55 171.5,430.87 172,430.7 172.5,430.2 173,429.7 173.5,429.2 174,428.62 174.5,427.71 175,426.8 175.5,425.88 176,424.97 176.5,424.06 177,423.15 177.5,422.24 178,421.33 178.5,420.44 179,419.65 179.5,418.87 180,418.08 180.5,417.29 181,416.5 181.5,415.71 182,414.92 182.5,414.13 183,413.35 183.5,412.56 184,412.67 184.5,413.01 185,413.35 185.5,413.7 186,414.05 186.5,414.44 187,414.82 187.5,415.2 188,415.59 188.5,415.97 189,416.25 189.5,416.36 190,416.48 190.5,416.6 191,416.71 191.5,416.83 192,416.95 192.5,417.06 193,417.18 193.5,417.3 194,417.41 194.5,417.53 195,417.68 195.5,417.87 196,418.07 196.5,418.26 197,418.46 197.5,418.65 198,418.85 198.5,419.04 199,419.24 199.5,419.43 200,419.63 200.5,419.82 201,420 201.5,420.17 202,420.33 202.5,420.5 203,420.67 203.5,420.83 204,421 204.5,421.17 205,421.33 205.5,421.4 206,421.4 206.5,421.4 207,421.4 207.5,421.4 208,421.4 208.5,421.4 209,421.4 209.5,421.4 210,421.4 210.5,421.4 211,421.4 211.5,421.4 212,421.4 212.5,421.4 213,421.4 213.5,421.4 214,421.4 214.5,421.4 215,421.4 215.5,421.4 216,421.4 216.5,421.4 217,421.4 217.5,421.46 218,421.54 218.5,421.62 219,421.7 219.5,421.77 220,421.85 220.5,421.93 221,422.01 221.5,422.08 222,422.26 222.5,422.46 223,422.66 223.5,422.86 224,423.06 224.5,423.26 225,423.46 225.5,423.66 226,423.86 226.5,424.04 227,424.2 227.5,424.37 228,424.54 228.5,424.71 229,424.88 229.5,425.05 230,425.22 230.5,425.39 231,425.56 231.5,425.73 232,425.9 232.5,426.03 233,426.11 233.5,426.2 234,426.28 234.5,426.36 235,426.44 235.5,426.52 236,426.61 236.5,426.69 237,426.77 237.5,426.85 238,426.93 238.5,427.02 239,427.1 239.5,427.18 240,427.26 240.5,427.34 241,427.43 241.5,427.51 242,427.59 242.5,427.67 243,427.75 243.5,427.84 244,427.92 244.5,428 245,427.84 245.5,427.68 246,427.52 246.5,427.35 247,427.19 247.5,427.03 248,426.87 248.5,426.71 249,426.55 249.5,426.39 250,426.23 250.5,426.06 251,425.96 251.5,425.91 252,425.85 252.5,425.79 253,425.73 253.5,425.67 254,425.61 254.5,425.55 255,425.49 255.5,425.44 256,425.46 256.5,425.62 257,425.78 257.5,425.93 258,426.09 258.5,426.25 259,426.4 259.5,426.56 260,426.72 260.5,426.87 261,427.05 261.5,427.3 262,427.56 262.5,427.81 263,428.07 263.5,428.32 264,428.58 264.5,428.83 265,429.08 265.5,429.34 266,429.59 266.5,429.85 267,430.1 267.5,430.18 268,430.26 268.5,430.35 269,430.43 269.5,430.51 270,430.59 270.5,430.67 271,430.76 271.5,430.84 272,430.92 272.5,431 273,431.08 273.5,431.12 274,431.14 274.5,431.17 275,431.19 275.5,431.22 276,431.24 276.5,431.27 277,431.29 277.5,431.31 278,431.34 278.5,431.36 279,431.39 279.5,431.41 280,431.44 280.5,431.46 281,431.49 281.5,431.53 282,431.6 282.5,431.68 283,431.75 283.5,431.82 284,431.9 284.5,431.97 285,432.04 285.5,432.11 286,432.19 286.5,432.26 287,432.33 287.5,432.41 288,432.48 288.5,432.55 289,432.63 289.5,432.7 290,432.77 290.5,432.83 291,432.9 291.5,432.96 292,433.03 292.5,433.09 293,433.16 293.5,433.22 294,433.29 294.5,433.36 295,433.42 295.5,433.49 296,433.41 296.5,433.29 297,433.18 297.5,433.06 298,432.95 298.5,432.83 299,432.72 299.5,432.6 300,432.49 300.5,432.38 301,432.26 301.5,432.15 302,432.05 302.5,431.97 303,431.89 303.5,431.81 304,431.73 304.5,431.65 305,431.57 305.5,431.49 306,431.41 306.5,431.33 307,431.25 307.5,431.16 308,431.04 308.5,430.75 309,430.45 309.5,430.16 310,429.86 310.5,429.57 311,429.27 311.5,428.98 312,428.68 312.5,428.39 313,428.09 313.5,427.8 314,427.5 314.5,427.25 315,427.01 315.5,426.76 316,426.52 316.5,426.27 317,426.02 317.5,425.78 318,425.53 318.5,425.29 319,425.04 319.5,424.8 320,424.55 320.5,424.42 321,424.33 321.5,424.23 322,424.13 322.5,424.04 323,423.94 323.5,423.84 324,423.75 324.5,423.65 325,423.55 325.5,423.45 326,423.36 326.5,423.35 327,423.47 327.5,423.59 328,423.71 328.5,423.84 329,423.96 329.5,424.08 330,424.2 330.5,424.11 331,424.02 331.5,423.94 332,423.85 332.5,423.76 333,423.67 333.5,423.59 334,423.5 334.5,423.41 335,423.32 335.5,423.23 336,423.15 336.5,423.06 337,422.97 337.5,422.87 338,422.7 338.5,422.53 339,422.37 339.5,422.2 340,422.03 340.5,421.87 341,421.7 341.5,421.53 342,421.34 342.5,421.04 343,420.74 343.5,420.44 344,420.14 344.5,419.84 345,419.47" fill="none" stroke="#e8461c" stroke-width="1.2" stroke-linejoin="round" />
<polyline points="345.5,407.7 346,406.63 346.5,405.59 347,404.24 347.5,403.36 348,403.69 348.5,403.52 349,403.85 349.5,402.87 350,403.27 350.5,403.41 351,402.54 351.5,402.65 352,403.28 352.5,403.86 353,403.85 353.5,405.08 354,405.4 354.5,406.06 355,405.77 355.5,405.59 356,406.34 356.5,405.8 357,406.69 357.5,406.39 358,407.79 358.5,405.75 359,408.11 359.5,408.38 360,407.91 360.5,407.97 361,407.72 361.5,408.21 362,408.26 362.5,407.11 363,408.18 363.5,407.31 364,408.45 364.5,408.96 365,408.44 365.5,409.9 366,409.8 366.5,411.18 367,410.53 367.5,410.33 368,410.94 368.5,412.06 369,412.57 369.5,412.91 370,412.58 370.5,413.77 371,412.97 371.5,413.17 372,413.89 372.5,413.2 373,412.17 373.5,413.73 374,413.3 374.5,413.07 375,414.07 375.5,412.92 376,413.69 376.5,413.38 377,414.86 377.5,412.22 378,413.42 378.5,413.43 379,413.8 379.5,412.81 380,412.6 380.5,413.73 381,412.56 381.5,412.91 382,412.63 382.5,412.81 383,411.69 383.5,412.09 384,412.31 384.5,412.32 385,412.84 385.5,412.4 386,412.48 386.5,412.14 387,412.97 387.5,411.89 388,412.24 388.5,411.44 389,411.75 389.5,412.92 390,412.42 390.5,411.38 391,412.51 391.5,412.43 392,411.93 392.5,412.85 393,412.53 393.5,412.51 394,412.82 394.5,411.64 395,412.41 395.5,411.36 396,411.12 396.5,411.8 397,411.01 397.5,410.29 398,410.22 398.5,410.17 399,408.92 399.5,409.94 400,409.28 400.5,408.26 401,408.21 401.5,409.04 402,407.51 402.5,409.3 403,407.12 403.5,407.63 404,405.72 404.5,406.95 405,406.43 405.5,406.78 406,406.36 406.5,405.79 407,407.03 407.5,405.95 408,404.8 408.5,405.3 409,403.36 409.5,404.73 410,405.83 410.5,404.75 411,405.17 411.5,404.39 412,405.55 412.5,405.15 413,405.08 413.5,405.64 414,406.06 414.5,405.55 415,404.04 415.5,405.31 416,405.22 416.5,404.31 417,403.97 417.5,404.64 418,404.64 418.5,404.72 419,404.26 419.5,404.73 420,404.76 420.5,404.35 421,404.69 421.5,404.05 422,403.4 422.5,404.28 423,404.75 423.5,405.78 424,402.89 424.5,403.86 425,403.64 425.5,404.32 426,403.64 426.5,404.24 427,404.76 427.5,403.71 428,404.12 428.5,405.13 429,404.7 429.5,403.09 430,405.14 430.5,403.32 431,403.75 431.5,403.15 432,402.96 432.5,402.65 433,403.27 433.5,402.27 434,401.81 434.5,402.06 435,402.27 435.5,401.09 436,402.79 436.5,401.9 437,402.79 437.5,403.2 438,402.58 438.5,402.73 439,402.16 439.5,402.05 440,401.34 440.5,402.38 441,402.19 441.5,401.11 442,402.72 442.5,403.48 443,402.73 443.5,403.1 444,402.16 444.5,401.62 445,402.18 445.5,401.85 446,401.29 446.5,402.51 447,401.91 447.5,401.33 448,401.75 448.5,401.46 449,401.83 449.5,402.33 450,400.92 450.5,400.83 451,402.7 451.5,403.65 452,402.18 452.5,402.33 453,402.49 453.5,403.54 454,403.94 454.5,404.05 455,405.05 455.5,404.39 456,404.59 456.5,403.86 457,405.11 457.5,404.59 458,404.4 458.5,402.78 459,403.75 459.5,402.79 460,402.71 460.5,402.3 461,401.42 461.5,401.18 462,400.73 462.5,401.7 463,402.26 463.5,402.08 464,403.2 464.5,404.28 465,403.59 465.5,403.28 466,403.32 466.5,403.92 467,404.83 467.5,403.86 468,403.77 468.5,402.97 469,403.88 469.5,404.03 470,403.39 470.5,403.59 471,403.19 471.5,404 472,404.33 472.5,403.73 473,403.78 473.5,403.44 474,402.96 474.5,402.82 475,402.98 475.5,403.23 476,403.09 476.5,403.64 477,403.41 477.5,403.8 478,403.31 478.5,402.63 479,402.78 479.5,401.68 480,403.59 480.5,402.18 481,402.18 481.5,403.34 482,401.44 482.5,401.54 483,401.71 483.5,401.23 484,401.46 484.5,401.38 485,401.45 485.5,400.83 486,401.14 486.5,400.36 487,400.78 487.5,401 488,399.15 488.5,399.93 489,400.05 489.5,398.69 490,397.88 490.5,399.77 491,399.07 491.5,399.81 492,399.21 492.5,399.09 493,398.77 493.5,398.92 494,398.2 494.5,398.31 495,399.46 495.5,399.34 496,400.3 496.5,400.49 497,400.79 497.5,400.92 498,402.5 498.5,402 499,402.22 499.5,400.57 500,401.16 500.5,400.72 501,399.61 501.5,398.53 502,398.9 502.5,398.55 503,397.68 503.5,397.21 504,398.29 504.5,397.8 505,397.75 505.5,398.62 506,398.23 506.5,397.95 507,399.01 507.5,398.4 508,399.27 508.5,398.42 509,399.11 509.5,399.76 510,399.4 510.5,399.52 511,399.6 511.5,399.94 512,399.58 512.5,399.92 513,399.66 513.5,401.09 514,399.57 514.5,400.73 515,399.8 515.5,400.85 516,401.45 516.5,400.17 517,402.01 517.5,400.54 518,400.77 518.5,401.59 519,400.89 519.5,402.27 520,402.13 520.5,400.21 521,400.86 521.5,401.16 522,401.71 522.5,400.71 523,400.8 523.5,401.48 524,400.4 524.5,401.05 525,399.94 525.5,401.23 526,401.36 526.5,399.95 527,399.39 527.5,399.97 528,401.7 528.5,400.96 529,402.09 529.5,400.85 530,401.25 530.5,401.91 531,402.78 531.5,402.19 532,401.88 532.5,402.71 533,402.64 533.5,402.93 534,402.58 534.5,402.37 535,402.8 535.5,401.37 536,403.05 536.5,403.67 537,403.32 537.5,402.48 538,402.13 538.5,403.6 539,402.3 539.5,402.25 540,402.29 540.5,401.59 541,401.74 541.5,402.38 542,400.98 542.5,402.19 543,401.06 543.5,400.8 544,401.02 544.5,400.95 545,400.97 545.5,400.62 546,399.89 546.5,401.14 547,400.03 547.5,399.57 548,400.54 548.5,400.33 549,399.88 549.5,399.88 550,400.13 550.5,400.86 551,399.62 551.5,398.86 552,399.15 552.5,399.62 553,399.03 553.5,398.58 554,399.24 554.5,399.07 555,398.35 555.5,398.47 556,397.75 556.5,397.6 557,397.59 557.5,396.81 558,397.29 558.5,396.43 559,395.57 559.5,395.32 560,394.72 560.5,393.59 561,393.06 561.5,392.33 562,393.34 562.5,391.37 563,392.15 563.5,392.52 564,391.21 564.5,391.11 565,390.93 565.5,390.27 566,391.86 566.5,390.84 567,390.15 567.5,390.26 568,390.9 568.5,390.77 569,390.6 569.5,391.6 570,390.94 570.5,391.4 571,391.9 571.5,391.54 572,392.18 572.5,391.92 573,394.05 573.5,392.44 574,393.46 574.5,392.92 575,393.13 575.5,394.09 576,394.33 576.5,394.7 577,395.26 577.5,395.99 578,396.51 578.5,396.49 579,395.24 579.5,396.21 580,396.04 580.5,394.58 581,394.57 581.5,394.71 582,395.85 582.5,394.52 583,394.37 583.5,395.25 584,394.23 584.5,394.15 585,394.51 585.5,394.17 586,392.54 586.5,393.14 587,394.21 587.5,392.85 588,394.34 588.5,393.48 589,393.58 589.5,393.51 590,392.19 590.5,392.74" fill="none" stroke="#e8461c" stroke-width="1.2" stroke-linejoin="round" />
<path d="M173.9 393V438M179.7 307V345M180.3 307V350M182.9 307V360M184.2 307V362M185.8 400V438M187.6 412V438M190 398V438M191.1 405V438M192.5 410V438M194.3 415V438M196 430V438M198 420V438M201.9 430V438M204 428V438M205.5 400V438M207.9 368V438M209.7 415V438M212.3 415V438M214.1 392V438M215.6 360V438M217.9 355V438M238 405V438M242.1 399V438" stroke="#bdbdbd" stroke-width="0.9" fill="none"/>
<polyline points="173.9,415.9 179.7,323.4 180.3,329.2 182.9,333.6 184.2,334.5 185.8,423.6 187.6,431 190,419.1 191.1,422.9 192.5,423.6 194.3,426.3 196,437.7 198,432.2 201.9,436.2 204,435.2 205.5,418.4 207.9,402.8 209.7,428.8 212.3,428.8 214.1,414.4 215.6,398 217.9,396.1 238,426 242.1,418.8" fill="none" stroke="#111" stroke-width="0.9" stroke-linejoin="round" />
<rect x="172.2" y="414.2" width="3.4" height="3.4" fill="#d8d8d8" stroke="#222" stroke-width="0.8"/>
<rect x="178" y="321.7" width="3.4" height="3.4" fill="#d8d8d8" stroke="#222" stroke-width="0.8"/>
<rect x="178.6" y="327.5" width="3.4" height="3.4" fill="#d8d8d8" stroke="#222" stroke-width="0.8"/>
<rect x="181.2" y="331.9" width="3.4" height="3.4" fill="#d8d8d8" stroke="#222" stroke-width="0.8"/>
<rect x="182.5" y="332.8" width="3.4" height="3.4" fill="#d8d8d8" stroke="#222" stroke-width="0.8"/>
<rect x="184.1" y="421.9" width="3.4" height="3.4" fill="#d8d8d8" stroke="#222" stroke-width="0.8"/>
<rect x="185.9" y="429.3" width="3.4" height="3.4" fill="#d8d8d8" stroke="#222" stroke-width="0.8"/>
<rect x="188.3" y="417.4" width="3.4" height="3.4" fill="#d8d8d8" stroke="#222" stroke-width="0.8"/>
<rect x="189.4" y="421.2" width="3.4" height="3.4" fill="#d8d8d8" stroke="#222" stroke-width="0.8"/>
<rect x="190.8" y="421.9" width="3.4" height="3.4" fill="#d8d8d8" stroke="#222" stroke-width="0.8"/>
<rect x="192.6" y="424.6" width="3.4" height="3.4" fill="#d8d8d8" stroke="#222" stroke-width="0.8"/>
<rect x="194.3" y="436" width="3.4" height="3.4" fill="#d8d8d8" stroke="#222" stroke-width="0.8"/>
<rect x="196.3" y="430.5" width="3.4" height="3.4" fill="#d8d8d8" stroke="#222" stroke-width="0.8"/>
<rect x="200.2" y="434.5" width="3.4" height="3.4" fill="#d8d8d8" stroke="#222" stroke-width="0.8"/>
<rect x="202.3" y="433.5" width="3.4" height="3.4" fill="#d8d8d8" stroke="#222" stroke-width="0.8"/>
<rect x="203.8" y="416.7" width="3.4" height="3.4" fill="#d8d8d8" stroke="#222" stroke-width="0.8"/>
<rect x="206.2" y="401.1" width="3.4" height="3.4" fill="#d8d8d8" stroke="#222" stroke-width="0.8"/>
<rect x="208" y="427.1" width="3.4" height="3.4" fill="#d8d8d8" stroke="#222" stroke-width="0.8"/>
<rect x="210.6" y="427.1" width="3.4" height="3.4" fill="#d8d8d8" stroke="#222" stroke-width="0.8"/>
<rect x="212.4" y="412.7" width="3.4" height="3.4" fill="#d8d8d8" stroke="#222" stroke-width="0.8"/>
<rect x="213.9" y="396.3" width="3.4" height="3.4" fill="#d8d8d8" stroke="#222" stroke-width="0.8"/>
<rect x="216.2" y="394.4" width="3.4" height="3.4" fill="#d8d8d8" stroke="#222" stroke-width="0.8"/>
<rect x="236.3" y="424.3" width="3.4" height="3.4" fill="#d8d8d8" stroke="#222" stroke-width="0.8"/>
<rect x="240.4" y="417.1" width="3.4" height="3.4" fill="#d8d8d8" stroke="#222" stroke-width="0.8"/>
<line x1="64.5" y1="306.9" x2="591.5" y2="306.9" stroke="#000" stroke-width="1" />
<line x1="64.5" y1="438.3" x2="591.5" y2="438.3" stroke="#000" stroke-width="1" />
<line x1="64.5" y1="306.9" x2="64.5" y2="438.3" stroke="#000" stroke-width="1" />
<line x1="591.5" y1="306.9" x2="591.5" y2="438.3" stroke="#000" stroke-width="1" />
<line x1="89.2" y1="438.3" x2="89.2" y2="436.7" stroke="#000" stroke-width="1" />
<line x1="89.2" y1="306.9" x2="89.2" y2="308.5" stroke="#000" stroke-width="1" />
<line x1="114.32" y1="438.3" x2="114.32" y2="436.7" stroke="#000" stroke-width="1" />
<line x1="114.32" y1="306.9" x2="114.32" y2="308.5" stroke="#000" stroke-width="1" />
<line x1="139.44" y1="438.3" x2="139.44" y2="435.3" stroke="#000" stroke-width="1" />
<line x1="139.44" y1="306.9" x2="139.44" y2="309.9" stroke="#000" stroke-width="1" />
<text x="140.24" y="451.1" font-size="10.5" fill="#000" text-anchor="middle" >13:30</text>
<line x1="164.56" y1="438.3" x2="164.56" y2="436.7" stroke="#000" stroke-width="1" />
<line x1="164.56" y1="306.9" x2="164.56" y2="308.5" stroke="#000" stroke-width="1" />
<line x1="189.68" y1="438.3" x2="189.68" y2="436.7" stroke="#000" stroke-width="1" />
<line x1="189.68" y1="306.9" x2="189.68" y2="308.5" stroke="#000" stroke-width="1" />
<line x1="214.8" y1="438.3" x2="214.8" y2="435.3" stroke="#000" stroke-width="1" />
<line x1="214.8" y1="306.9" x2="214.8" y2="309.9" stroke="#000" stroke-width="1" />
<text x="215.6" y="451.1" font-size="10.5" fill="#000" text-anchor="middle" >13:45</text>
<line x1="239.92" y1="438.3" x2="239.92" y2="436.7" stroke="#000" stroke-width="1" />
<line x1="239.92" y1="306.9" x2="239.92" y2="308.5" stroke="#000" stroke-width="1" />
<line x1="265.04" y1="438.3" x2="265.04" y2="436.7" stroke="#000" stroke-width="1" />
<line x1="265.04" y1="306.9" x2="265.04" y2="308.5" stroke="#000" stroke-width="1" />
<line x1="290.16" y1="438.3" x2="290.16" y2="435.3" stroke="#000" stroke-width="1" />
<line x1="290.16" y1="306.9" x2="290.16" y2="309.9" stroke="#000" stroke-width="1" />
<text x="290.96" y="451.1" font-size="10.5" fill="#000" text-anchor="middle" >14:00</text>
<line x1="315.28" y1="438.3" x2="315.28" y2="436.7" stroke="#000" stroke-width="1" />
<line x1="315.28" y1="306.9" x2="315.28" y2="308.5" stroke="#000" stroke-width="1" />
<line x1="340.4" y1="438.3" x2="340.4" y2="436.7" stroke="#000" stroke-width="1" />
<line x1="340.4" y1="306.9" x2="340.4" y2="308.5" stroke="#000" stroke-width="1" />
<line x1="365.52" y1="438.3" x2="365.52" y2="435.3" stroke="#000" stroke-width="1" />
<line x1="365.52" y1="306.9" x2="365.52" y2="309.9" stroke="#000" stroke-width="1" />
<text x="366.32" y="451.1" font-size="10.5" fill="#000" text-anchor="middle" >14:15</text>
<line x1="390.64" y1="438.3" x2="390.64" y2="436.7" stroke="#000" stroke-width="1" />
<line x1="390.64" y1="306.9" x2="390.64" y2="308.5" stroke="#000" stroke-width="1" />
<line x1="415.76" y1="438.3" x2="415.76" y2="436.7" stroke="#000" stroke-width="1" />
<line x1="415.76" y1="306.9" x2="415.76" y2="308.5" stroke="#000" stroke-width="1" />
<line x1="440.88" y1="438.3" x2="440.88" y2="435.3" stroke="#000" stroke-width="1" />
<line x1="440.88" y1="306.9" x2="440.88" y2="309.9" stroke="#000" stroke-width="1" />
<text x="441.68" y="451.1" font-size="10.5" fill="#000" text-anchor="middle" >14:30</text>
<line x1="466" y1="438.3" x2="466" y2="436.7" stroke="#000" stroke-width="1" />
<line x1="466" y1="306.9" x2="466" y2="308.5" stroke="#000" stroke-width="1" />
<line x1="491.12" y1="438.3" x2="491.12" y2="436.7" stroke="#000" stroke-width="1" />
<line x1="491.12" y1="306.9" x2="491.12" y2="308.5" stroke="#000" stroke-width="1" />
<line x1="516.24" y1="438.3" x2="516.24" y2="435.3" stroke="#000" stroke-width="1" />
<line x1="516.24" y1="306.9" x2="516.24" y2="309.9" stroke="#000" stroke-width="1" />
<text x="517.04" y="451.1" font-size="10.5" fill="#000" text-anchor="middle" >14:45</text>
<line x1="541.36" y1="438.3" x2="541.36" y2="436.7" stroke="#000" stroke-width="1" />
<line x1="541.36" y1="306.9" x2="541.36" y2="308.5" stroke="#000" stroke-width="1" />
<line x1="566.48" y1="438.3" x2="566.48" y2="436.7" stroke="#000" stroke-width="1" />
<line x1="566.48" y1="306.9" x2="566.48" y2="308.5" stroke="#000" stroke-width="1" />
<text x="592.4" y="451.1" font-size="10.5" fill="#000" text-anchor="middle" >15:00</text>
<line x1="64.5" y1="438.3" x2="74.5" y2="438.3" stroke="#000" stroke-width="1" />
<line x1="64.5" y1="432.82" x2="69.5" y2="432.82" stroke="#000" stroke-width="1" />
<line x1="64.5" y1="427.35" x2="69.5" y2="427.35" stroke="#000" stroke-width="1" />
<line x1="64.5" y1="421.88" x2="69.5" y2="421.88" stroke="#000" stroke-width="1" />
<line x1="64.5" y1="416.4" x2="74.5" y2="416.4" stroke="#000" stroke-width="1" />
<line x1="64.5" y1="410.93" x2="69.5" y2="410.93" stroke="#000" stroke-width="1" />
<line x1="64.5" y1="405.45" x2="69.5" y2="405.45" stroke="#000" stroke-width="1" />
<line x1="64.5" y1="399.98" x2="69.5" y2="399.98" stroke="#000" stroke-width="1" />
<line x1="64.5" y1="394.5" x2="74.5" y2="394.5" stroke="#000" stroke-width="1" />
<line x1="64.5" y1="389.02" x2="69.5" y2="389.02" stroke="#000" stroke-width="1" />
<line x1="64.5" y1="383.55" x2="69.5" y2="383.55" stroke="#000" stroke-width="1" />
<line x1="64.5" y1="378.07" x2="69.5" y2="378.07" stroke="#000" stroke-width="1" />
<line x1="64.5" y1="372.6" x2="74.5" y2="372.6" stroke="#000" stroke-width="1" />
<line x1="64.5" y1="367.12" x2="69.5" y2="367.12" stroke="#000" stroke-width="1" />
<line x1="64.5" y1="361.65" x2="69.5" y2="361.65" stroke="#000" stroke-width="1" />
<line x1="64.5" y1="356.17" x2="69.5" y2="356.17" stroke="#000" stroke-width="1" />
<line x1="64.5" y1="350.7" x2="74.5" y2="350.7" stroke="#000" stroke-width="1" />
<line x1="64.5" y1="345.22" x2="69.5" y2="345.22" stroke="#000" stroke-width="1" />
<line x1="64.5" y1="339.75" x2="69.5" y2="339.75" stroke="#000" stroke-width="1" />
<line x1="64.5" y1="334.27" x2="69.5" y2="334.27" stroke="#000" stroke-width="1" />
<line x1="64.5" y1="328.8" x2="74.5" y2="328.8" stroke="#000" stroke-width="1" />
<line x1="64.5" y1="323.32" x2="69.5" y2="323.32" stroke="#000" stroke-width="1" />
<line x1="64.5" y1="317.85" x2="69.5" y2="317.85" stroke="#000" stroke-width="1" />
<line x1="64.5" y1="312.38" x2="69.5" y2="312.38" stroke="#000" stroke-width="1" />
<line x1="64.5" y1="306.9" x2="74.5" y2="306.9" stroke="#000" stroke-width="1" />
<line x1="591.5" y1="438.3" x2="581.5" y2="438.3" stroke="#000" stroke-width="1" />
<line x1="591.5" y1="432.82" x2="586.5" y2="432.82" stroke="#000" stroke-width="1" />
<line x1="591.5" y1="427.35" x2="586.5" y2="427.35" stroke="#000" stroke-width="1" />
<line x1="591.5" y1="421.88" x2="586.5" y2="421.88" stroke="#000" stroke-width="1" />
<line x1="591.5" y1="416.4" x2="581.5" y2="416.4" stroke="#000" stroke-width="1" />
<line x1="591.5" y1="410.93" x2="586.5" y2="410.93" stroke="#000" stroke-width="1" />
<line x1="591.5" y1="405.45" x2="586.5" y2="405.45" stroke="#000" stroke-width="1" />
<line x1="591.5" y1="399.98" x2="586.5" y2="399.98" stroke="#000" stroke-width="1" />
<line x1="591.5" y1="394.5" x2="581.5" y2="394.5" stroke="#000" stroke-width="1" />
<line x1="591.5" y1="389.02" x2="586.5" y2="389.02" stroke="#000" stroke-width="1" />
<line x1="591.5" y1="383.55" x2="586.5" y2="383.55" stroke="#000" stroke-width="1" />
<line x1="591.5" y1="378.07" x2="586.5" y2="378.07" stroke="#000" stroke-width="1" />
<line x1="591.5" y1="372.6" x2="581.5" y2="372.6" stroke="#000" stroke-width="1" />
<line x1="591.5" y1="367.12" x2="586.5" y2="367.12" stroke="#000" stroke-width="1" />
<line x1="591.5" y1="361.65" x2="586.5" y2="361.65" stroke="#000" stroke-width="1" />
<line x1="591.5" y1="356.17" x2="586.5" y2="356.17" stroke="#000" stroke-width="1" />
<line x1="591.5" y1="350.7" x2="581.5" y2="350.7" stroke="#000" stroke-width="1" />
<line x1="591.5" y1="345.22" x2="586.5" y2="345.22" stroke="#000" stroke-width="1" />
<line x1="591.5" y1="339.75" x2="586.5" y2="339.75" stroke="#000" stroke-width="1" />
<line x1="591.5" y1="334.27" x2="586.5" y2="334.27" stroke="#000" stroke-width="1" />
<line x1="591.5" y1="328.8" x2="581.5" y2="328.8" stroke="#000" stroke-width="1" />
<line x1="591.5" y1="323.32" x2="586.5" y2="323.32" stroke="#000" stroke-width="1" />
<line x1="591.5" y1="317.85" x2="586.5" y2="317.85" stroke="#000" stroke-width="1" />
<line x1="591.5" y1="312.38" x2="586.5" y2="312.38" stroke="#000" stroke-width="1" />
<line x1="591.5" y1="306.9" x2="581.5" y2="306.9" stroke="#000" stroke-width="1" />
<text x="58.6" y="442.2" font-size="10.5" fill="#000" text-anchor="end" >0</text>
<text x="58.6" y="420.3" font-size="10.5" fill="#000" text-anchor="end" >2</text>
<text x="58.6" y="398.4" font-size="10.5" fill="#000" text-anchor="end" >4</text>
<text x="58.6" y="376.5" font-size="10.5" fill="#000" text-anchor="end" >6</text>
<text x="58.6" y="354.6" font-size="10.5" fill="#000" text-anchor="end" >8</text>
<text x="58.6" y="332.7" font-size="10.5" fill="#000" text-anchor="end" >10</text>
<text x="58.6" y="311.1" font-size="10.5" fill="#000" text-anchor="end" >12</text>
<text transform="translate(41.2,371.5) rotate(-90)" font-size="10.0" fill="#000" text-anchor="middle">Twist</text>
<text x="78.4" y="325.2" font-size="17.8" fill="#000" text-anchor="start" font-weight="bold">c</text>
<text x="512.6" y="348.6" font-family="&quot;Liberation Serif&quot;, serif" font-size="13.3" fill="#000">&#916;</text>
<text transform="translate(522.4,349.5) scale(0.83,1)" font-family="&quot;Liberation Serif&quot;, serif" font-size="15" font-style="italic" fill="#000">&#934;</text>
<text x="547.7" y="348.6" font-family="&quot;Liberation Serif&quot;, serif" font-size="13.3" fill="#000">&#916;</text>
<text transform="translate(556.9,349.5) scale(0.83,1)" font-family="&quot;Liberation Serif&quot;, serif" font-size="15" font-style="italic" fill="#000">&#934;</text>
<text fill="#000"><tspan x="531.6" y="351" font-size="9.0">p</tspan><tspan x="540.7" y="348.6" font-size="12.4">/</tspan><tspan x="567.3" y="349.9" font-size="9.0">t</tspan></text>
<text transform="translate(516.1,366.5) scale(0.83,1)" font-family="&quot;Liberation Serif&quot;, serif" font-size="15" font-style="italic" fill="#e2262e">&#934;</text>
<text transform="translate(538.9,366.5) scale(0.83,1)" font-family="&quot;Liberation Serif&quot;, serif" font-size="15" font-style="italic" fill="#e2262e">&#934;</text>
<text fill="#e2262e"><tspan x="525.5" y="368.2" font-size="9.0">p</tspan><tspan x="532.5" y="366.2" font-size="12.4">/</tspan><tspan x="548.7" y="367.3" font-size="9.0">t</tspan></text>
<line x1="603.6" y1="357.3" x2="603.6" y2="432.1" stroke="#f3a866" stroke-width="1" />
<rect x="598.8" y="389.9" width="9.6" height="9.6" fill="none" stroke="#e2443c" stroke-width="1"/>
<line x1="624.6" y1="358.8" x2="624.6" y2="387.2" stroke="#f3a866" stroke-width="1" />
<polygon points="624.6,369.2 628.6,373.2 624.6,377.2 620.6,373.2" fill="none" stroke="#e2443c" stroke-width="1"/>
<line x1="641.6" y1="372.9" x2="641.6" y2="396.8" stroke="#f3a866" stroke-width="1" />
<polygon points="641.6,380.8 646,389.6 637.2,389.6" fill="none" stroke="#e2443c" stroke-width="1"/>
<text x="334.5" y="467.6" font-size="10.9" fill="#000" text-anchor="middle" >Start Time (04-Nov-15 13:15:06)</text>
</svg>
</body></html>
